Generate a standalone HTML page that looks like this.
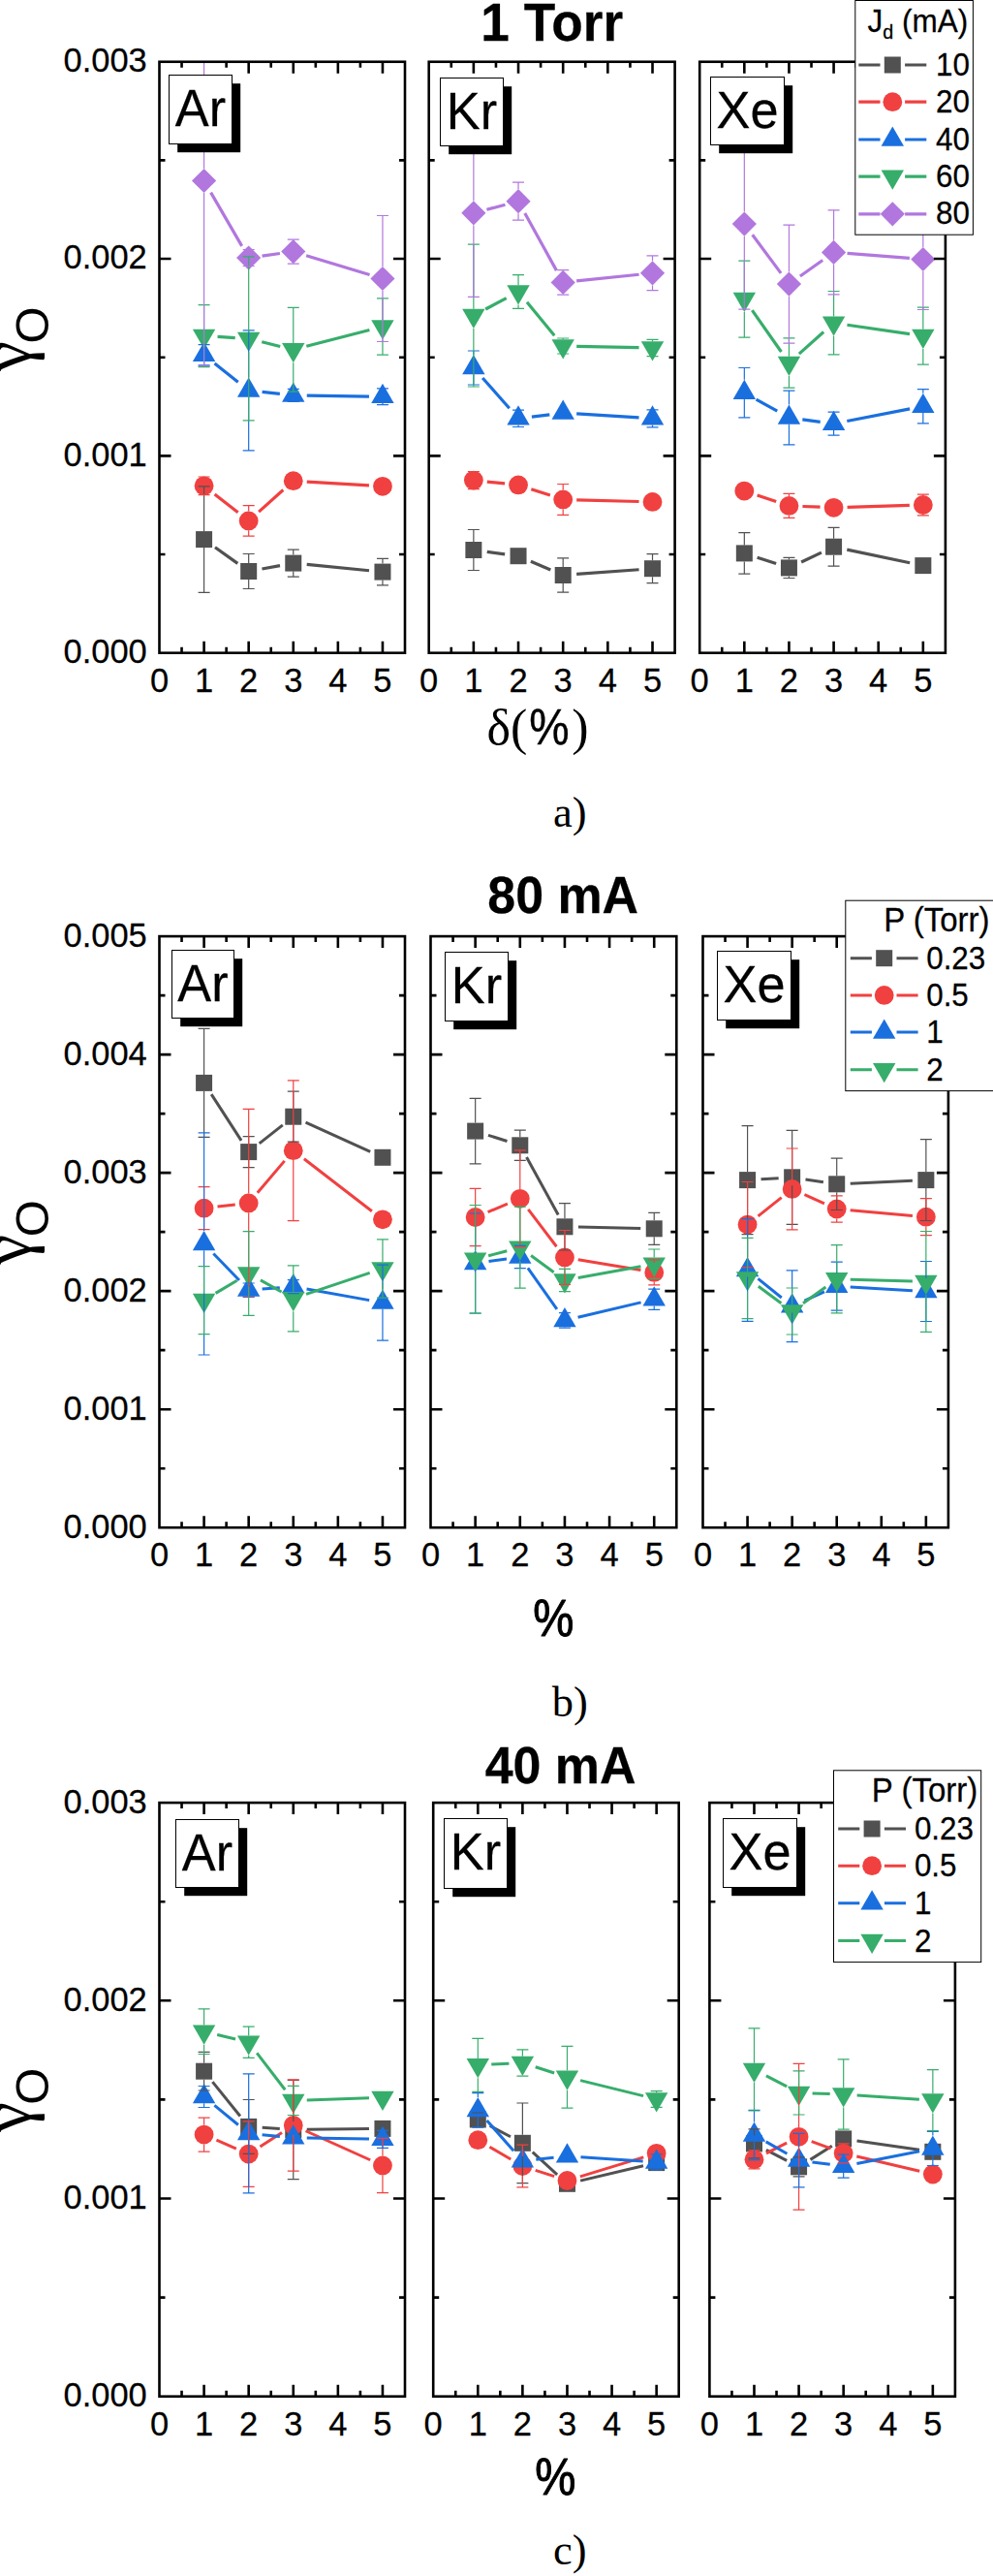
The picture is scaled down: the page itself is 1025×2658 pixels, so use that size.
<!DOCTYPE html>
<html><head><meta charset="utf-8"><title>Figure</title><style>html,body{margin:0;padding:0;background:#fff}svg{display:block}</style></head><body>
<svg width="1025" height="2658" viewBox="0 0 1025 2658">
<rect width="1025" height="2658" fill="#fff"/>
<g id="panel-a">
<clipPath id="c1"><rect x="164.5" y="63.75" width="253.5" height="609.95"/></clipPath>
<g clip-path="url(#c1)">
<line x1="221.99" y1="564.73" x2="245.29" y2="581.37" stroke="#515151" stroke-width="3.2"/>
<line x1="270.45" y1="586.99" x2="289" y2="583.61" stroke="#515151" stroke-width="3.2"/>
<line x1="316.71" y1="582.46" x2="381.02" y2="588.74" stroke="#515151" stroke-width="3.2"/>
<rect x="202.09" y="548.1" width="17" height="17" fill="#515151"/>
<rect x="248.18" y="581" width="17" height="17" fill="#515151"/>
<rect x="294.27" y="572.6" width="17" height="17" fill="#515151"/>
<rect x="386.45" y="581.6" width="17" height="17" fill="#515151"/>
<line x1="221.61" y1="509.93" x2="245.66" y2="528.77" stroke="#F14040" stroke-width="3.2"/>
<line x1="267.12" y1="528.07" x2="292.33" y2="505.53" stroke="#F14040" stroke-width="3.2"/>
<line x1="316.75" y1="497.05" x2="380.98" y2="500.95" stroke="#F14040" stroke-width="3.2"/>
<circle cx="210.59" cy="501.3" r="9.9" fill="#F14040"/>
<circle cx="256.68" cy="537.4" r="9.9" fill="#F14040"/>
<circle cx="302.77" cy="496.2" r="9.9" fill="#F14040"/>
<circle cx="394.95" cy="501.8" r="9.9" fill="#F14040"/>
<line x1="221.55" y1="375.01" x2="245.72" y2="394.19" stroke="#1A6FDF" stroke-width="3.2"/>
<line x1="270.6" y1="404.41" x2="288.85" y2="406.39" stroke="#1A6FDF" stroke-width="3.2"/>
<line x1="316.77" y1="408.11" x2="380.96" y2="409.09" stroke="#1A6FDF" stroke-width="3.2"/>
<path d="M198.89 373.05L222.29 373.05L210.59 352.79Z" fill="#1A6FDF"/>
<path d="M244.98 409.65L268.38 409.65L256.68 389.39Z" fill="#1A6FDF"/>
<path d="M291.07 414.65L314.47 414.65L302.77 394.39Z" fill="#1A6FDF"/>
<path d="M383.25 416.05L406.65 416.05L394.95 395.79Z" fill="#1A6FDF"/>
<line x1="224.57" y1="347.45" x2="242.71" y2="348.55" stroke="#37AD6B" stroke-width="3.2"/>
<line x1="270.27" y1="352.76" x2="289.18" y2="357.44" stroke="#37AD6B" stroke-width="3.2"/>
<line x1="316.33" y1="357.3" x2="381.4" y2="340.5" stroke="#37AD6B" stroke-width="3.2"/>
<path d="M198.89 339.85L222.29 339.85L210.59 360.11Z" fill="#37AD6B"/>
<path d="M244.98 342.65L268.38 342.65L256.68 362.91Z" fill="#37AD6B"/>
<path d="M291.07 354.05L314.47 354.05L302.77 374.31Z" fill="#37AD6B"/>
<path d="M383.25 330.25L406.65 330.25L394.95 350.51Z" fill="#37AD6B"/>
<line x1="217.61" y1="198.61" x2="249.66" y2="253.89" stroke="#B177DE" stroke-width="3.2"/>
<line x1="270.55" y1="264.07" x2="288.91" y2="261.53" stroke="#B177DE" stroke-width="3.2"/>
<line x1="316.17" y1="263.66" x2="381.55" y2="283.44" stroke="#B177DE" stroke-width="3.2"/>
<path d="M197.99 186.5L210.59 173.9L223.19 186.5L210.59 199.1Z" fill="#B177DE"/>
<path d="M244.08 266L256.68 253.4L269.28 266L256.68 278.6Z" fill="#B177DE"/>
<path d="M290.17 259.6L302.77 247L315.37 259.6L302.77 272.2Z" fill="#B177DE"/>
<path d="M382.35 287.5L394.95 274.9L407.55 287.5L394.95 300.1Z" fill="#B177DE"/>
<path d="M210.59 501.9V548.1M210.59 565.1V611.3M204.59 501.9H216.59M204.59 611.3H216.59" stroke="#515151" stroke-width="1.2" fill="none"/>
<path d="M256.68 571.5V581M256.68 598V607.5M250.68 571.5H262.68M250.68 607.5H262.68" stroke="#515151" stroke-width="1.2" fill="none"/>
<path d="M302.77 567.1V572.6M302.77 589.6V595.1M296.77 567.1H308.77M296.77 595.1H308.77" stroke="#515151" stroke-width="1.2" fill="none"/>
<path d="M394.95 576.3V581.6M394.95 598.6V603.9M388.95 576.3H400.95M388.95 603.9H400.95" stroke="#515151" stroke-width="1.2" fill="none"/>
<path d="M204.59 492H216.59M204.59 510.6H216.59" stroke="#F14040" stroke-width="1.2" fill="none"/>
<path d="M256.68 521.6V527.5M256.68 547.3V553.2M250.68 521.6H262.68M250.68 553.2H262.68" stroke="#F14040" stroke-width="1.2" fill="none"/>
<path d="M210.59 373.05V376.9M204.59 355.7H216.59M204.59 376.9H216.59" stroke="#1A6FDF" stroke-width="1.2" fill="none"/>
<path d="M256.68 340.9V389.39M256.68 409.65V464.9M250.68 340.9H262.68M250.68 464.9H262.68" stroke="#1A6FDF" stroke-width="1.2" fill="none"/>
<path d="M296.77 401.3H308.77M296.77 414.5H308.77" stroke="#1A6FDF" stroke-width="1.2" fill="none"/>
<path d="M394.95 416.05V417.7M388.95 400.9H400.95M388.95 417.7H400.95" stroke="#1A6FDF" stroke-width="1.2" fill="none"/>
<path d="M210.59 314.6V339.85M210.59 360.11V378.6M204.59 314.6H216.59M204.59 378.6H216.59" stroke="#37AD6B" stroke-width="1.2" fill="none"/>
<path d="M256.68 264.9V342.65M256.68 362.91V433.9M250.68 264.9H262.68M250.68 433.9H262.68" stroke="#37AD6B" stroke-width="1.2" fill="none"/>
<path d="M302.77 317.4V354.05M302.77 374.31V404.2M296.77 317.4H308.77M296.77 404.2H308.77" stroke="#37AD6B" stroke-width="1.2" fill="none"/>
<path d="M394.95 307.8V330.25M394.95 350.51V366.2M388.95 307.8H400.95M388.95 366.2H400.95" stroke="#37AD6B" stroke-width="1.2" fill="none"/>
<path d="M210.59 -4.5V173.9M210.59 199.1V377.5M204.59 -4.5H216.59M204.59 377.5H216.59" stroke="#B177DE" stroke-width="1.2" fill="none"/>
<path d="M250.68 257.5H262.68M250.68 274.5H262.68" stroke="#B177DE" stroke-width="1.2" fill="none"/>
<path d="M296.77 247.1H308.77M296.77 272.1H308.77" stroke="#B177DE" stroke-width="1.2" fill="none"/>
<path d="M394.95 222.5V274.9M394.95 300.1V352.5M388.95 222.5H400.95M388.95 352.5H400.95" stroke="#B177DE" stroke-width="1.2" fill="none"/>
</g>
<path d="M187.55 673.7v-6M187.55 63.75v6M210.59 673.7v-12M233.64 673.7v-6M233.64 63.75v6M256.68 673.7v-12M256.68 63.75v12M279.73 673.7v-6M279.73 63.75v6M302.77 673.7v-12M302.77 63.75v12M325.82 673.7v-6M325.82 63.75v6M348.86 673.7v-12M348.86 63.75v12M371.91 673.7v-6M371.91 63.75v6M394.95 673.7v-12M394.95 63.75v12M164.5 572.04h6M418 572.04h-6M164.5 470.38h12M418 470.38h-12M164.5 368.73h6M418 368.73h-6M164.5 267.07h12M418 267.07h-12M164.5 165.41h6M418 165.41h-6" stroke="#000" stroke-width="2.6" fill="none"/>
<rect x="164.5" y="63.75" width="253.5" height="609.95" fill="none" stroke="#000" stroke-width="2.6"/>
<text transform="translate(164.5 713.7) scale(0.9597 1)" font-family='"Liberation Sans", Arial, Helvetica, sans-serif' font-size="35.95" text-anchor="middle" stroke="#000" stroke-width="0.25">0</text>
<text transform="translate(210.59 713.7) scale(0.9597 1)" font-family='"Liberation Sans", Arial, Helvetica, sans-serif' font-size="35.95" text-anchor="middle" stroke="#000" stroke-width="0.25">1</text>
<text transform="translate(256.68 713.7) scale(0.9597 1)" font-family='"Liberation Sans", Arial, Helvetica, sans-serif' font-size="35.95" text-anchor="middle" stroke="#000" stroke-width="0.25">2</text>
<text transform="translate(302.77 713.7) scale(0.9597 1)" font-family='"Liberation Sans", Arial, Helvetica, sans-serif' font-size="35.95" text-anchor="middle" stroke="#000" stroke-width="0.25">3</text>
<text transform="translate(348.86 713.7) scale(0.9597 1)" font-family='"Liberation Sans", Arial, Helvetica, sans-serif' font-size="35.95" text-anchor="middle" stroke="#000" stroke-width="0.25">4</text>
<text transform="translate(394.95 713.7) scale(0.9597 1)" font-family='"Liberation Sans", Arial, Helvetica, sans-serif' font-size="35.95" text-anchor="middle" stroke="#000" stroke-width="0.25">5</text>
<rect x="183.2" y="86.2" width="65" height="71" fill="#000"/>
<rect x="174.5" y="77.5" width="65" height="71" fill="#fff" stroke="#000" stroke-width="1"/>
<text transform="translate(207 130.1) scale(0.9597 1)" font-family='"Liberation Sans", Arial, Helvetica, sans-serif' font-size="54.5" text-anchor="middle" stroke="#000" stroke-width="0.25">Ar</text>
<clipPath id="c2"><rect x="442.7" y="63.75" width="253.9" height="609.95"/></clipPath>
<g clip-path="url(#c2)">
<line x1="502.74" y1="569.36" x2="521.15" y2="571.84" stroke="#515151" stroke-width="3.2"/>
<line x1="547.89" y1="579.22" x2="568.32" y2="587.98" stroke="#515151" stroke-width="3.2"/>
<line x1="595.15" y1="592.47" x2="659.56" y2="587.73" stroke="#515151" stroke-width="3.2"/>
<rect x="480.36" y="559" width="17" height="17" fill="#515151"/>
<rect x="526.53" y="565.2" width="17" height="17" fill="#515151"/>
<rect x="572.69" y="585" width="17" height="17" fill="#515151"/>
<rect x="665.02" y="578.2" width="17" height="17" fill="#515151"/>
<line x1="502.79" y1="497.05" x2="521.1" y2="498.95" stroke="#F14040" stroke-width="3.2"/>
<line x1="548.34" y1="504.73" x2="567.88" y2="511.07" stroke="#F14040" stroke-width="3.2"/>
<line x1="595.19" y1="515.78" x2="659.52" y2="517.52" stroke="#F14040" stroke-width="3.2"/>
<circle cx="488.86" cy="495.6" r="9.9" fill="#F14040"/>
<circle cx="535.03" cy="500.4" r="9.9" fill="#F14040"/>
<circle cx="581.19" cy="515.4" r="9.9" fill="#F14040"/>
<circle cx="673.52" cy="517.9" r="9.9" fill="#F14040"/>
<line x1="498.13" y1="390" x2="525.76" y2="421.3" stroke="#1A6FDF" stroke-width="3.2"/>
<line x1="548.92" y1="430.08" x2="567.3" y2="427.82" stroke="#1A6FDF" stroke-width="3.2"/>
<line x1="595.16" y1="426.96" x2="659.54" y2="430.94" stroke="#1A6FDF" stroke-width="3.2"/>
<path d="M477.16 386.25L500.56 386.25L488.86 365.99Z" fill="#1A6FDF"/>
<path d="M523.33 438.55L546.73 438.55L535.03 418.29Z" fill="#1A6FDF"/>
<path d="M569.49 432.85L592.89 432.85L581.19 412.59Z" fill="#1A6FDF"/>
<path d="M661.82 438.55L685.22 438.55L673.52 418.29Z" fill="#1A6FDF"/>
<line x1="501.22" y1="319.02" x2="522.67" y2="307.58" stroke="#37AD6B" stroke-width="3.2"/>
<line x1="543.93" y1="311.8" x2="572.29" y2="346.2" stroke="#37AD6B" stroke-width="3.2"/>
<line x1="595.19" y1="357.3" x2="659.52" y2="358.7" stroke="#37AD6B" stroke-width="3.2"/>
<path d="M477.16 318.85L500.56 318.85L488.86 339.11Z" fill="#37AD6B"/>
<path d="M523.33 294.25L546.73 294.25L535.03 314.51Z" fill="#37AD6B"/>
<path d="M569.49 350.25L592.89 350.25L581.19 370.51Z" fill="#37AD6B"/>
<path d="M661.82 352.25L685.22 352.25L673.52 372.51Z" fill="#37AD6B"/>
<line x1="502.41" y1="216.25" x2="521.48" y2="211.25" stroke="#B177DE" stroke-width="3.2"/>
<line x1="541.79" y1="219.96" x2="574.43" y2="279.14" stroke="#B177DE" stroke-width="3.2"/>
<line x1="595.12" y1="289.95" x2="659.59" y2="283.25" stroke="#B177DE" stroke-width="3.2"/>
<path d="M476.26 219.8L488.86 207.2L501.46 219.8L488.86 232.4Z" fill="#B177DE"/>
<path d="M522.43 207.7L535.03 195.1L547.63 207.7L535.03 220.3Z" fill="#B177DE"/>
<path d="M568.59 291.4L581.19 278.8L593.79 291.4L581.19 304Z" fill="#B177DE"/>
<path d="M660.92 281.8L673.52 269.2L686.12 281.8L673.52 294.4Z" fill="#B177DE"/>
<path d="M488.86 546.5V559M488.86 576V588.5M482.86 546.5H494.86M482.86 588.5H494.86" stroke="#515151" stroke-width="1.2" fill="none"/>
<path d="M581.19 575.9V585M581.19 602V611.1M575.19 575.9H587.19M575.19 611.1H587.19" stroke="#515151" stroke-width="1.2" fill="none"/>
<path d="M673.52 571.7V578.2M673.52 595.2V601.7M667.52 571.7H679.52M667.52 601.7H679.52" stroke="#515151" stroke-width="1.2" fill="none"/>
<path d="M482.86 486.6H494.86M482.86 504.6H494.86" stroke="#F14040" stroke-width="1.2" fill="none"/>
<path d="M581.19 499.5V505.5M581.19 525.3V531.3M575.19 499.5H587.19M575.19 531.3H587.19" stroke="#F14040" stroke-width="1.2" fill="none"/>
<path d="M488.86 362V365.99M488.86 386.25V397M482.86 362H494.86M482.86 397H494.86" stroke="#1A6FDF" stroke-width="1.2" fill="none"/>
<path d="M535.03 438.55V440.5M529.03 423.1H541.03M529.03 440.5H541.03" stroke="#1A6FDF" stroke-width="1.2" fill="none"/>
<path d="M673.52 438.55V440.8M667.52 422.8H679.52M667.52 440.8H679.52" stroke="#1A6FDF" stroke-width="1.2" fill="none"/>
<path d="M488.86 252.2V318.85M488.86 339.11V399M482.86 252.2H494.86M482.86 399H494.86" stroke="#37AD6B" stroke-width="1.2" fill="none"/>
<path d="M535.03 283.7V294.25M535.03 314.51V318.3M529.03 283.7H541.03M529.03 318.3H541.03" stroke="#37AD6B" stroke-width="1.2" fill="none"/>
<path d="M581.19 349V350.25M575.19 349H587.19M575.19 365H587.19" stroke="#37AD6B" stroke-width="1.2" fill="none"/>
<path d="M673.52 350.4V352.25M667.52 350.4H679.52M667.52 367.6H679.52" stroke="#37AD6B" stroke-width="1.2" fill="none"/>
<path d="M488.86 133.2V207.2M488.86 232.4V306.4M482.86 133.2H494.86M482.86 306.4H494.86" stroke="#B177DE" stroke-width="1.2" fill="none"/>
<path d="M535.03 188.2V195.1M535.03 220.3V227.2M529.03 188.2H541.03M529.03 227.2H541.03" stroke="#B177DE" stroke-width="1.2" fill="none"/>
<path d="M581.19 278.7V278.8M581.19 304V304.1M575.19 278.7H587.19M575.19 304.1H587.19" stroke="#B177DE" stroke-width="1.2" fill="none"/>
<path d="M673.52 263.9V269.2M673.52 294.4V299.7M667.52 263.9H679.52M667.52 299.7H679.52" stroke="#B177DE" stroke-width="1.2" fill="none"/>
</g>
<path d="M465.78 673.7v-6M465.78 63.75v6M488.86 673.7v-12M488.86 63.75v12M511.95 673.7v-6M511.95 63.75v6M535.03 673.7v-12M535.03 63.75v12M558.11 673.7v-6M558.11 63.75v6M581.19 673.7v-12M581.19 63.75v12M604.27 673.7v-6M604.27 63.75v6M627.35 673.7v-12M627.35 63.75v12M650.44 673.7v-6M650.44 63.75v6M673.52 673.7v-12M673.52 63.75v12M442.7 572.04h6M696.6 572.04h-6M442.7 470.38h12M696.6 470.38h-12M442.7 368.73h6M696.6 368.73h-6M442.7 267.07h12M696.6 267.07h-12M442.7 165.41h6M696.6 165.41h-6" stroke="#000" stroke-width="2.6" fill="none"/>
<rect x="442.7" y="63.75" width="253.9" height="609.95" fill="none" stroke="#000" stroke-width="2.6"/>
<text transform="translate(442.7 713.7) scale(0.9597 1)" font-family='"Liberation Sans", Arial, Helvetica, sans-serif' font-size="35.95" text-anchor="middle" stroke="#000" stroke-width="0.25">0</text>
<text transform="translate(488.86 713.7) scale(0.9597 1)" font-family='"Liberation Sans", Arial, Helvetica, sans-serif' font-size="35.95" text-anchor="middle" stroke="#000" stroke-width="0.25">1</text>
<text transform="translate(535.03 713.7) scale(0.9597 1)" font-family='"Liberation Sans", Arial, Helvetica, sans-serif' font-size="35.95" text-anchor="middle" stroke="#000" stroke-width="0.25">2</text>
<text transform="translate(581.19 713.7) scale(0.9597 1)" font-family='"Liberation Sans", Arial, Helvetica, sans-serif' font-size="35.95" text-anchor="middle" stroke="#000" stroke-width="0.25">3</text>
<text transform="translate(627.35 713.7) scale(0.9597 1)" font-family='"Liberation Sans", Arial, Helvetica, sans-serif' font-size="35.95" text-anchor="middle" stroke="#000" stroke-width="0.25">4</text>
<text transform="translate(673.52 713.7) scale(0.9597 1)" font-family='"Liberation Sans", Arial, Helvetica, sans-serif' font-size="35.95" text-anchor="middle" stroke="#000" stroke-width="0.25">5</text>
<rect x="463.2" y="89.2" width="65" height="70" fill="#000"/>
<rect x="454.5" y="80.5" width="65" height="70" fill="#fff" stroke="#000" stroke-width="1"/>
<text transform="translate(487 133.1) scale(0.9597 1)" font-family='"Liberation Sans", Arial, Helvetica, sans-serif' font-size="54.5" text-anchor="middle" stroke="#000" stroke-width="0.25">Kr</text>
<clipPath id="c3"><rect x="722.2" y="63.75" width="253.7" height="609.95"/></clipPath>
<g clip-path="url(#c3)">
<line x1="781.64" y1="575.23" x2="801.14" y2="581.57" stroke="#515151" stroke-width="3.2"/>
<line x1="827.12" y1="579.94" x2="847.91" y2="570.16" stroke="#515151" stroke-width="3.2"/>
<line x1="874.28" y1="567.08" x2="939.14" y2="580.72" stroke="#515151" stroke-width="3.2"/>
<rect x="759.83" y="562.4" width="17" height="17" fill="#515151"/>
<rect x="805.95" y="577.4" width="17" height="17" fill="#515151"/>
<rect x="852.08" y="555.7" width="17" height="17" fill="#515151"/>
<rect x="944.34" y="575.1" width="17" height="17" fill="#515151"/>
<line x1="781.62" y1="511.01" x2="801.17" y2="517.49" stroke="#F14040" stroke-width="3.2"/>
<line x1="828.44" y1="522.48" x2="846.59" y2="523.22" stroke="#F14040" stroke-width="3.2"/>
<line x1="874.58" y1="523.38" x2="938.84" y2="521.42" stroke="#F14040" stroke-width="3.2"/>
<circle cx="768.33" cy="506.6" r="9.9" fill="#F14040"/>
<circle cx="814.45" cy="521.9" r="9.9" fill="#F14040"/>
<circle cx="860.58" cy="523.8" r="9.9" fill="#F14040"/>
<circle cx="952.84" cy="521" r="9.9" fill="#F14040"/>
<line x1="780.55" y1="412.03" x2="802.24" y2="424.17" stroke="#1A6FDF" stroke-width="3.2"/>
<line x1="828.33" y1="432.86" x2="846.71" y2="435.34" stroke="#1A6FDF" stroke-width="3.2"/>
<line x1="874.32" y1="434.52" x2="939.1" y2="421.88" stroke="#1A6FDF" stroke-width="3.2"/>
<path d="M756.63 411.95L780.03 411.95L768.33 391.69Z" fill="#1A6FDF"/>
<path d="M802.75 437.75L826.15 437.75L814.45 417.49Z" fill="#1A6FDF"/>
<path d="M848.88 443.95L872.28 443.95L860.58 423.69Z" fill="#1A6FDF"/>
<path d="M941.14 425.95L964.54 425.95L952.84 405.69Z" fill="#1A6FDF"/>
<line x1="776.36" y1="320.07" x2="806.43" y2="363.03" stroke="#37AD6B" stroke-width="3.2"/>
<line x1="824.88" y1="365.16" x2="850.15" y2="342.54" stroke="#37AD6B" stroke-width="3.2"/>
<line x1="874.44" y1="335.21" x2="938.98" y2="344.59" stroke="#37AD6B" stroke-width="3.2"/>
<path d="M756.63 301.85L780.03 301.85L768.33 322.11Z" fill="#37AD6B"/>
<path d="M802.75 367.75L826.15 367.75L814.45 388.01Z" fill="#37AD6B"/>
<path d="M848.88 326.45L872.28 326.45L860.58 346.71Z" fill="#37AD6B"/>
<path d="M941.14 339.85L964.54 339.85L952.84 360.11Z" fill="#37AD6B"/>
<line x1="776.68" y1="242.33" x2="806.1" y2="281.87" stroke="#B177DE" stroke-width="3.2"/>
<line x1="825.88" y1="285" x2="849.16" y2="268.5" stroke="#B177DE" stroke-width="3.2"/>
<line x1="874.54" y1="261.47" x2="938.88" y2="266.43" stroke="#B177DE" stroke-width="3.2"/>
<path d="M755.73 231.1L768.33 218.5L780.93 231.1L768.33 243.7Z" fill="#B177DE"/>
<path d="M801.85 293.1L814.45 280.5L827.05 293.1L814.45 305.7Z" fill="#B177DE"/>
<path d="M847.98 260.4L860.58 247.8L873.18 260.4L860.58 273Z" fill="#B177DE"/>
<path d="M940.24 267.5L952.84 254.9L965.44 267.5L952.84 280.1Z" fill="#B177DE"/>
<path d="M768.33 549.7V562.4M768.33 579.4V592.1M762.33 549.7H774.33M762.33 592.1H774.33" stroke="#515151" stroke-width="1.2" fill="none"/>
<path d="M814.45 575.3V577.4M814.45 594.4V596.5M808.45 575.3H820.45M808.45 596.5H820.45" stroke="#515151" stroke-width="1.2" fill="none"/>
<path d="M860.58 544.3V555.7M860.58 572.7V584.1M854.58 544.3H866.58M854.58 584.1H866.58" stroke="#515151" stroke-width="1.2" fill="none"/>
<path d="M814.45 509.4V512M814.45 531.8V534.4M808.45 509.4H820.45M808.45 534.4H820.45" stroke="#F14040" stroke-width="1.2" fill="none"/>
<path d="M952.84 510.1V511.1M952.84 530.9V531.9M946.84 510.1H958.84M946.84 531.9H958.84" stroke="#F14040" stroke-width="1.2" fill="none"/>
<path d="M768.33 379.5V391.69M768.33 411.95V430.9M762.33 379.5H774.33M762.33 430.9H774.33" stroke="#1A6FDF" stroke-width="1.2" fill="none"/>
<path d="M814.45 403.2V417.49M814.45 437.75V458.8M808.45 403.2H820.45M808.45 458.8H820.45" stroke="#1A6FDF" stroke-width="1.2" fill="none"/>
<path d="M860.58 443.95V449.2M854.58 425.2H866.58M854.58 449.2H866.58" stroke="#1A6FDF" stroke-width="1.2" fill="none"/>
<path d="M952.84 401.6V405.69M952.84 425.95V436.8M946.84 401.6H958.84M946.84 436.8H958.84" stroke="#1A6FDF" stroke-width="1.2" fill="none"/>
<path d="M768.33 269.1V301.85M768.33 322.11V348.1M762.33 269.1H774.33M762.33 348.1H774.33" stroke="#37AD6B" stroke-width="1.2" fill="none"/>
<path d="M814.45 348.8V367.75M814.45 388.01V400.2M808.45 348.8H820.45M808.45 400.2H820.45" stroke="#37AD6B" stroke-width="1.2" fill="none"/>
<path d="M860.58 300.5V326.45M860.58 346.71V365.9M854.58 300.5H866.58M854.58 365.9H866.58" stroke="#37AD6B" stroke-width="1.2" fill="none"/>
<path d="M952.84 317.1V339.85M952.84 360.11V376.1M946.84 317.1H958.84M946.84 376.1H958.84" stroke="#37AD6B" stroke-width="1.2" fill="none"/>
<path d="M768.33 143.1V218.5M768.33 243.7V319.1M762.33 143.1H774.33M762.33 319.1H774.33" stroke="#B177DE" stroke-width="1.2" fill="none"/>
<path d="M814.45 232.1V280.5M814.45 305.7V354.1M808.45 232.1H820.45M808.45 354.1H820.45" stroke="#B177DE" stroke-width="1.2" fill="none"/>
<path d="M860.58 216.9V247.8M860.58 273V303.9M854.58 216.9H866.58M854.58 303.9H866.58" stroke="#B177DE" stroke-width="1.2" fill="none"/>
<path d="M952.84 215.5V254.9M952.84 280.1V319.5M946.84 215.5H958.84M946.84 319.5H958.84" stroke="#B177DE" stroke-width="1.2" fill="none"/>
</g>
<path d="M745.26 673.7v-6M745.26 63.75v6M768.33 673.7v-12M768.33 63.75v12M791.39 673.7v-6M791.39 63.75v6M814.45 673.7v-12M814.45 63.75v12M837.52 673.7v-6M837.52 63.75v6M860.58 673.7v-12M860.58 63.75v12M883.65 673.7v-6M883.65 63.75v6M906.71 673.7v-12M906.71 63.75v12M929.77 673.7v-6M929.77 63.75v6M952.84 673.7v-12M952.84 63.75v12M722.2 572.04h6M975.9 572.04h-6M722.2 470.38h12M975.9 470.38h-12M722.2 368.73h6M975.9 368.73h-6M722.2 267.07h12M975.9 267.07h-12M722.2 165.41h6M975.9 165.41h-6" stroke="#000" stroke-width="2.6" fill="none"/>
<rect x="722.2" y="63.75" width="253.7" height="609.95" fill="none" stroke="#000" stroke-width="2.6"/>
<text transform="translate(722.2 713.7) scale(0.9597 1)" font-family='"Liberation Sans", Arial, Helvetica, sans-serif' font-size="35.95" text-anchor="middle" stroke="#000" stroke-width="0.25">0</text>
<text transform="translate(768.33 713.7) scale(0.9597 1)" font-family='"Liberation Sans", Arial, Helvetica, sans-serif' font-size="35.95" text-anchor="middle" stroke="#000" stroke-width="0.25">1</text>
<text transform="translate(814.45 713.7) scale(0.9597 1)" font-family='"Liberation Sans", Arial, Helvetica, sans-serif' font-size="35.95" text-anchor="middle" stroke="#000" stroke-width="0.25">2</text>
<text transform="translate(860.58 713.7) scale(0.9597 1)" font-family='"Liberation Sans", Arial, Helvetica, sans-serif' font-size="35.95" text-anchor="middle" stroke="#000" stroke-width="0.25">3</text>
<text transform="translate(906.71 713.7) scale(0.9597 1)" font-family='"Liberation Sans", Arial, Helvetica, sans-serif' font-size="35.95" text-anchor="middle" stroke="#000" stroke-width="0.25">4</text>
<text transform="translate(952.84 713.7) scale(0.9597 1)" font-family='"Liberation Sans", Arial, Helvetica, sans-serif' font-size="35.95" text-anchor="middle" stroke="#000" stroke-width="0.25">5</text>
<rect x="742.2" y="88.2" width="76" height="70" fill="#000"/>
<rect x="733.5" y="79.5" width="76" height="70" fill="#fff" stroke="#000" stroke-width="1"/>
<text transform="translate(771.5 132.1) scale(0.9597 1)" font-family='"Liberation Sans", Arial, Helvetica, sans-serif' font-size="54.5" text-anchor="middle" stroke="#000" stroke-width="0.25">Xe</text>
<text transform="translate(151.8 684.1) scale(0.9597 1)" font-family='"Liberation Sans", Arial, Helvetica, sans-serif' font-size="35.95" text-anchor="end" stroke="#000" stroke-width="0.25">0.000</text>
<text transform="translate(151.8 480.78) scale(0.9597 1)" font-family='"Liberation Sans", Arial, Helvetica, sans-serif' font-size="35.95" text-anchor="end" stroke="#000" stroke-width="0.25">0.001</text>
<text transform="translate(151.8 277.47) scale(0.9597 1)" font-family='"Liberation Sans", Arial, Helvetica, sans-serif' font-size="35.95" text-anchor="end" stroke="#000" stroke-width="0.25">0.002</text>
<text transform="translate(151.8 74.15) scale(0.9597 1)" font-family='"Liberation Sans", Arial, Helvetica, sans-serif' font-size="35.95" text-anchor="end" stroke="#000" stroke-width="0.25">0.003</text>
<text transform="translate(569.7 42.3) scale(0.9597 1)" font-family='"Liberation Sans", Arial, Helvetica, sans-serif' font-size="55.43" font-weight="bold" text-anchor="middle" stroke="#000" stroke-width="0.25">1 Torr</text>
<text y="768" font-family='"Liberation Serif", "Times New Roman", serif' font-size="52"><tspan x="544.3" text-anchor="end">δ(</tspan><tspan x="546.2" font-family='"Liberation Sans", Arial, Helvetica, sans-serif' font-size="51.2" textLength="41.4" lengthAdjust="spacingAndGlyphs" stroke="#000" stroke-width="0.4">%</tspan><tspan x="590.3">)</tspan></text>
<text x="588.3" y="853.4" text-anchor="middle" font-family='"Liberation Serif", "Times New Roman", serif' font-size="44.4">a)</text>
<text transform="rotate(-90)" text-anchor="middle"><tspan x="-367.5" y="31.2" font-family='"Liberation Serif", "Times New Roman", serif' font-size="70">γ</tspan><tspan x="-335.4" y="50" font-family='"Liberation Sans", Arial, Helvetica, sans-serif' font-size="49">O</tspan></text>
<rect x="882.8" y="0.5" width="121.6" height="241.7" fill="#fff" stroke="#000" stroke-width="1"/>
<text transform="translate(895.5 32.5) scale(0.9597 1)" font-family='"Liberation Sans", Arial, Helvetica, sans-serif' font-size="32.82" stroke="#000" stroke-width="0.25">J<tspan font-size="20.5" dy="7.5">d</tspan><tspan dy="-7.5"> (mA)</tspan></text>
<path d="M886.3 67H908.5M934.1 67H956.3" stroke="#515151" stroke-width="3.2" fill="none"/>
<rect x="912.8" y="58.5" width="17" height="17" fill="#515151"/>
<text transform="translate(966 77.6) scale(0.9597 1)" font-family='"Liberation Sans", Arial, Helvetica, sans-serif' font-size="32.72" stroke="#000" stroke-width="0.25">10</text>
<path d="M886.3 105.2H908.5M934.1 105.2H956.3" stroke="#F14040" stroke-width="3.2" fill="none"/>
<circle cx="921.3" cy="105.2" r="9.9" fill="#F14040"/>
<text transform="translate(966 115.8) scale(0.9597 1)" font-family='"Liberation Sans", Arial, Helvetica, sans-serif' font-size="32.72" stroke="#000" stroke-width="0.25">20</text>
<path d="M886.3 144H908.5M934.1 144H956.3" stroke="#1A6FDF" stroke-width="3.2" fill="none"/>
<path d="M909.6 150.75L933 150.75L921.3 130.49Z" fill="#1A6FDF"/>
<text transform="translate(966 154.6) scale(0.9597 1)" font-family='"Liberation Sans", Arial, Helvetica, sans-serif' font-size="32.72" stroke="#000" stroke-width="0.25">40</text>
<path d="M886.3 182.2H908.5M934.1 182.2H956.3" stroke="#37AD6B" stroke-width="3.2" fill="none"/>
<path d="M909.6 175.45L933 175.45L921.3 195.71Z" fill="#37AD6B"/>
<text transform="translate(966 192.8) scale(0.9597 1)" font-family='"Liberation Sans", Arial, Helvetica, sans-serif' font-size="32.72" stroke="#000" stroke-width="0.25">60</text>
<path d="M886.3 220.8H908.5M934.1 220.8H956.3" stroke="#B177DE" stroke-width="3.2" fill="none"/>
<path d="M908.7 220.8L921.3 208.2L933.9 220.8L921.3 233.4Z" fill="#B177DE"/>
<text transform="translate(966 231.4) scale(0.9597 1)" font-family='"Liberation Sans", Arial, Helvetica, sans-serif' font-size="32.72" stroke="#000" stroke-width="0.25">80</text>
</g>
<g id="panel-b">
<clipPath id="c4"><rect x="164.5" y="966.1" width="253.5" height="610.1"/></clipPath>
<g clip-path="url(#c4)">
<line x1="218.2" y1="1129.15" x2="249.07" y2="1176.85" stroke="#515151" stroke-width="3.0"/>
<line x1="267.67" y1="1179.92" x2="291.79" y2="1160.88" stroke="#515151" stroke-width="3.0"/>
<line x1="315.51" y1="1158.02" x2="382.22" y2="1188.48" stroke="#515151" stroke-width="3.0"/>
<rect x="202.09" y="1108.9" width="17" height="17" fill="#515151"/>
<rect x="248.18" y="1180.1" width="17" height="17" fill="#515151"/>
<rect x="294.27" y="1143.7" width="17" height="17" fill="#515151"/>
<rect x="386.45" y="1185.8" width="17" height="17" fill="#515151"/>
<line x1="224.5" y1="1245.1" x2="242.77" y2="1243" stroke="#F14040" stroke-width="3.0"/>
<line x1="265.75" y1="1230.73" x2="293.7" y2="1197.87" stroke="#F14040" stroke-width="3.0"/>
<line x1="313.86" y1="1195.75" x2="383.87" y2="1249.75" stroke="#F14040" stroke-width="3.0"/>
<circle cx="210.59" cy="1246.7" r="9.9" fill="#F14040"/>
<circle cx="256.68" cy="1241.4" r="9.9" fill="#F14040"/>
<circle cx="302.77" cy="1187.2" r="9.9" fill="#F14040"/>
<circle cx="394.95" cy="1258.3" r="9.9" fill="#F14040"/>
<line x1="220.33" y1="1293.46" x2="246.94" y2="1320.94" stroke="#1A6FDF" stroke-width="3.0"/>
<line x1="270.64" y1="1329.97" x2="288.81" y2="1328.63" stroke="#1A6FDF" stroke-width="3.0"/>
<line x1="316.55" y1="1330.07" x2="381.17" y2="1341.63" stroke="#1A6FDF" stroke-width="3.0"/>
<path d="M198.89 1290.15L222.29 1290.15L210.59 1269.89Z" fill="#1A6FDF"/>
<path d="M244.98 1337.75L268.38 1337.75L256.68 1317.49Z" fill="#1A6FDF"/>
<path d="M291.07 1334.35L314.47 1334.35L302.77 1314.09Z" fill="#1A6FDF"/>
<path d="M383.25 1350.85L406.65 1350.85L394.95 1330.59Z" fill="#1A6FDF"/>
<line x1="222.6" y1="1334.41" x2="244.67" y2="1321.19" stroke="#37AD6B" stroke-width="3.0"/>
<line x1="268.9" y1="1320.84" x2="290.56" y2="1332.96" stroke="#37AD6B" stroke-width="3.0"/>
<line x1="316.05" y1="1335.36" x2="381.68" y2="1313.44" stroke="#37AD6B" stroke-width="3.0"/>
<path d="M198.89 1334.85L222.29 1334.85L210.59 1355.11Z" fill="#37AD6B"/>
<path d="M244.98 1307.25L268.38 1307.25L256.68 1327.51Z" fill="#37AD6B"/>
<path d="M291.07 1333.05L314.47 1333.05L302.77 1353.31Z" fill="#37AD6B"/>
<path d="M383.25 1302.25L406.65 1302.25L394.95 1322.51Z" fill="#37AD6B"/>
<path d="M210.59 1061.4V1108.9M210.59 1125.9V1173.4M204.59 1061.4H216.59M204.59 1173.4H216.59" stroke="#515151" stroke-width="1.2" fill="none"/>
<path d="M256.68 1172.6V1180.1M256.68 1197.1V1204.6M250.68 1172.6H262.68M250.68 1204.6H262.68" stroke="#515151" stroke-width="1.2" fill="none"/>
<path d="M302.77 1126.2V1143.7M302.77 1160.7V1178.2M296.77 1126.2H308.77M296.77 1178.2H308.77" stroke="#515151" stroke-width="1.2" fill="none"/>
<path d="M210.59 1224.7V1236.8M210.59 1256.6V1268.7M204.59 1224.7H216.59M204.59 1268.7H216.59" stroke="#F14040" stroke-width="1.2" fill="none"/>
<path d="M256.68 1144.4V1231.5M256.68 1251.3V1338.4M250.68 1144.4H262.68M250.68 1338.4H262.68" stroke="#F14040" stroke-width="1.2" fill="none"/>
<path d="M302.77 1114.8V1177.3M302.77 1197.1V1259.6M296.77 1114.8H308.77M296.77 1259.6H308.77" stroke="#F14040" stroke-width="1.2" fill="none"/>
<path d="M210.59 1168.8V1269.89M210.59 1290.15V1398M204.59 1168.8H216.59M204.59 1398H216.59" stroke="#1A6FDF" stroke-width="1.2" fill="none"/>
<path d="M256.68 1337.75V1338M250.68 1324H262.68M250.68 1338H262.68" stroke="#1A6FDF" stroke-width="1.2" fill="none"/>
<path d="M302.77 1334.35V1334.6M296.77 1320.6H308.77M296.77 1334.6H308.77" stroke="#1A6FDF" stroke-width="1.2" fill="none"/>
<path d="M394.95 1305.1V1330.59M394.95 1350.85V1383.1M388.95 1305.1H400.95M388.95 1383.1H400.95" stroke="#1A6FDF" stroke-width="1.2" fill="none"/>
<path d="M210.59 1306.6V1334.85M210.59 1355.11V1376.6M204.59 1306.6H216.59M204.59 1376.6H216.59" stroke="#37AD6B" stroke-width="1.2" fill="none"/>
<path d="M256.68 1270.6V1307.25M256.68 1327.51V1357.4M250.68 1270.6H262.68M250.68 1357.4H262.68" stroke="#37AD6B" stroke-width="1.2" fill="none"/>
<path d="M302.77 1305.8V1333.05M302.77 1353.31V1373.8M296.77 1305.8H308.77M296.77 1373.8H308.77" stroke="#37AD6B" stroke-width="1.2" fill="none"/>
<path d="M394.95 1278.8V1302.25M394.95 1322.51V1339.2M388.95 1278.8H400.95M388.95 1339.2H400.95" stroke="#37AD6B" stroke-width="1.2" fill="none"/>
</g>
<path d="M187.55 1576.2v-6M187.55 966.1v6M210.59 1576.2v-12M210.59 966.1v12M233.64 1576.2v-6M233.64 966.1v6M256.68 1576.2v-12M256.68 966.1v12M279.73 1576.2v-6M279.73 966.1v6M302.77 1576.2v-12M302.77 966.1v12M325.82 1576.2v-6M325.82 966.1v6M348.86 1576.2v-12M348.86 966.1v12M371.91 1576.2v-6M371.91 966.1v6M394.95 1576.2v-12M394.95 966.1v12M164.5 1515.19h6M418 1515.19h-6M164.5 1454.18h12M418 1454.18h-12M164.5 1393.17h6M418 1393.17h-6M164.5 1332.16h12M418 1332.16h-12M164.5 1271.15h6M418 1271.15h-6M164.5 1210.14h12M418 1210.14h-12M164.5 1149.13h6M418 1149.13h-6M164.5 1088.12h12M418 1088.12h-12M164.5 1027.11h6M418 1027.11h-6" stroke="#000" stroke-width="2.6" fill="none"/>
<rect x="164.5" y="966.1" width="253.5" height="610.1" fill="none" stroke="#000" stroke-width="2.6"/>
<text transform="translate(164.5 1616.2) scale(0.9597 1)" font-family='"Liberation Sans", Arial, Helvetica, sans-serif' font-size="35.95" text-anchor="middle" stroke="#000" stroke-width="0.25">0</text>
<text transform="translate(210.59 1616.2) scale(0.9597 1)" font-family='"Liberation Sans", Arial, Helvetica, sans-serif' font-size="35.95" text-anchor="middle" stroke="#000" stroke-width="0.25">1</text>
<text transform="translate(256.68 1616.2) scale(0.9597 1)" font-family='"Liberation Sans", Arial, Helvetica, sans-serif' font-size="35.95" text-anchor="middle" stroke="#000" stroke-width="0.25">2</text>
<text transform="translate(302.77 1616.2) scale(0.9597 1)" font-family='"Liberation Sans", Arial, Helvetica, sans-serif' font-size="35.95" text-anchor="middle" stroke="#000" stroke-width="0.25">3</text>
<text transform="translate(348.86 1616.2) scale(0.9597 1)" font-family='"Liberation Sans", Arial, Helvetica, sans-serif' font-size="35.95" text-anchor="middle" stroke="#000" stroke-width="0.25">4</text>
<text transform="translate(394.95 1616.2) scale(0.9597 1)" font-family='"Liberation Sans", Arial, Helvetica, sans-serif' font-size="35.95" text-anchor="middle" stroke="#000" stroke-width="0.25">5</text>
<rect x="186.2" y="989.2" width="64" height="70" fill="#000"/>
<rect x="177.5" y="980.5" width="64" height="70" fill="#fff" stroke="#000" stroke-width="1"/>
<text transform="translate(209.5 1033.1) scale(0.9597 1)" font-family='"Liberation Sans", Arial, Helvetica, sans-serif' font-size="54.5" text-anchor="middle" stroke="#000" stroke-width="0.25">Ar</text>
<clipPath id="c5"><rect x="444.5" y="966.1" width="253.8" height="610.1"/></clipPath>
<g clip-path="url(#c5)">
<line x1="503.98" y1="1171.35" x2="523.45" y2="1177.55" stroke="#515151" stroke-width="3.0"/>
<line x1="543.53" y1="1194.07" x2="576.2" y2="1253.53" stroke="#515151" stroke-width="3.0"/>
<line x1="596.93" y1="1266.1" x2="661.23" y2="1267.5" stroke="#515151" stroke-width="3.0"/>
<rect x="482.15" y="1158.6" width="17" height="17" fill="#515151"/>
<rect x="528.29" y="1173.3" width="17" height="17" fill="#515151"/>
<rect x="574.44" y="1257.3" width="17" height="17" fill="#515151"/>
<rect x="666.73" y="1259.3" width="17" height="17" fill="#515151"/>
<line x1="503.57" y1="1250.62" x2="523.87" y2="1242.18" stroke="#F14040" stroke-width="3.0"/>
<line x1="545.27" y1="1247.94" x2="574.45" y2="1286.26" stroke="#F14040" stroke-width="3.0"/>
<line x1="596.74" y1="1299.72" x2="661.42" y2="1310.58" stroke="#F14040" stroke-width="3.0"/>
<circle cx="490.65" cy="1256" r="9.9" fill="#F14040"/>
<circle cx="536.79" cy="1236.8" r="9.9" fill="#F14040"/>
<circle cx="582.94" cy="1297.4" r="9.9" fill="#F14040"/>
<circle cx="675.23" cy="1312.9" r="9.9" fill="#F14040"/>
<line x1="504.51" y1="1301.55" x2="522.93" y2="1298.95" stroke="#1A6FDF" stroke-width="3.0"/>
<line x1="544.86" y1="1308.44" x2="574.87" y2="1350.96" stroke="#1A6FDF" stroke-width="3.0"/>
<line x1="596.56" y1="1359.2" x2="661.6" y2="1343.9" stroke="#1A6FDF" stroke-width="3.0"/>
<path d="M478.95 1310.25L502.35 1310.25L490.65 1289.99Z" fill="#1A6FDF"/>
<path d="M525.09 1303.75L548.49 1303.75L536.79 1283.49Z" fill="#1A6FDF"/>
<path d="M571.24 1369.15L594.64 1369.15L582.94 1348.89Z" fill="#1A6FDF"/>
<path d="M663.53 1347.45L686.93 1347.45L675.23 1327.19Z" fill="#1A6FDF"/>
<line x1="504.19" y1="1295.75" x2="523.25" y2="1290.75" stroke="#37AD6B" stroke-width="3.0"/>
<line x1="548.09" y1="1295.47" x2="571.64" y2="1312.73" stroke="#37AD6B" stroke-width="3.0"/>
<line x1="596.71" y1="1318.49" x2="661.45" y2="1306.71" stroke="#37AD6B" stroke-width="3.0"/>
<path d="M478.95 1292.55L502.35 1292.55L490.65 1312.81Z" fill="#37AD6B"/>
<path d="M525.09 1280.45L548.49 1280.45L536.79 1300.71Z" fill="#37AD6B"/>
<path d="M571.24 1314.25L594.64 1314.25L582.94 1334.51Z" fill="#37AD6B"/>
<path d="M663.53 1297.45L686.93 1297.45L675.23 1317.71Z" fill="#37AD6B"/>
<path d="M490.65 1133.4V1158.6M490.65 1175.6V1200.8M484.65 1133.4H496.65M484.65 1200.8H496.65" stroke="#515151" stroke-width="1.2" fill="none"/>
<path d="M536.79 1166.2V1173.3M536.79 1190.3V1197.4M530.79 1166.2H542.79M530.79 1197.4H542.79" stroke="#515151" stroke-width="1.2" fill="none"/>
<path d="M582.94 1241.6V1257.3M582.94 1274.3V1290M576.94 1241.6H588.94M576.94 1290H588.94" stroke="#515151" stroke-width="1.2" fill="none"/>
<path d="M675.23 1251.3V1259.3M675.23 1276.3V1284.3M669.23 1251.3H681.23M669.23 1284.3H681.23" stroke="#515151" stroke-width="1.2" fill="none"/>
<path d="M490.65 1226.3V1246.1M490.65 1265.9V1285.7M484.65 1226.3H496.65M484.65 1285.7H496.65" stroke="#F14040" stroke-width="1.2" fill="none"/>
<path d="M536.79 1186.8V1226.9M536.79 1246.7V1286.8M530.79 1186.8H542.79M530.79 1286.8H542.79" stroke="#F14040" stroke-width="1.2" fill="none"/>
<path d="M582.94 1269.5V1287.5M582.94 1307.3V1325.3M576.94 1269.5H588.94M576.94 1325.3H588.94" stroke="#F14040" stroke-width="1.2" fill="none"/>
<path d="M675.23 1299.9V1303M675.23 1322.8V1325.9M669.23 1299.9H681.23M669.23 1325.9H681.23" stroke="#F14040" stroke-width="1.2" fill="none"/>
<path d="M490.65 1252V1289.99M490.65 1310.25V1355M484.65 1252H496.65M484.65 1355H496.65" stroke="#1A6FDF" stroke-width="1.2" fill="none"/>
<path d="M536.79 1303.75V1308.7M530.79 1285.3H542.79M530.79 1308.7H542.79" stroke="#1A6FDF" stroke-width="1.2" fill="none"/>
<path d="M582.94 1369.15V1370.2M576.94 1354.6H588.94M576.94 1370.2H588.94" stroke="#1A6FDF" stroke-width="1.2" fill="none"/>
<path d="M675.23 1347.45V1351.3M669.23 1330.1H681.23M669.23 1351.3H681.23" stroke="#1A6FDF" stroke-width="1.2" fill="none"/>
<path d="M490.65 1243.5V1292.55M490.65 1312.81V1355.1M484.65 1243.5H496.65M484.65 1355.1H496.65" stroke="#37AD6B" stroke-width="1.2" fill="none"/>
<path d="M536.79 1245.2V1280.45M536.79 1300.71V1329.2M530.79 1245.2H542.79M530.79 1329.2H542.79" stroke="#37AD6B" stroke-width="1.2" fill="none"/>
<path d="M582.94 1309.4V1314.25M576.94 1309.4H588.94M576.94 1332.6H588.94" stroke="#37AD6B" stroke-width="1.2" fill="none"/>
<path d="M675.23 1289V1297.45M675.23 1317.71V1319.4M669.23 1289H681.23M669.23 1319.4H681.23" stroke="#37AD6B" stroke-width="1.2" fill="none"/>
</g>
<path d="M467.57 1576.2v-6M467.57 966.1v6M490.65 1576.2v-12M490.65 966.1v12M513.72 1576.2v-6M513.72 966.1v6M536.79 1576.2v-12M536.79 966.1v12M559.86 1576.2v-6M559.86 966.1v6M582.94 1576.2v-12M582.94 966.1v12M606.01 1576.2v-6M606.01 966.1v6M629.08 1576.2v-12M629.08 966.1v12M652.15 1576.2v-6M652.15 966.1v6M675.23 1576.2v-12M675.23 966.1v12M444.5 1515.19h6M698.3 1515.19h-6M444.5 1454.18h12M698.3 1454.18h-12M444.5 1393.17h6M698.3 1393.17h-6M444.5 1332.16h12M698.3 1332.16h-12M444.5 1271.15h6M698.3 1271.15h-6M444.5 1210.14h12M698.3 1210.14h-12M444.5 1149.13h6M698.3 1149.13h-6M444.5 1088.12h12M698.3 1088.12h-12M444.5 1027.11h6M698.3 1027.11h-6" stroke="#000" stroke-width="2.6" fill="none"/>
<rect x="444.5" y="966.1" width="253.8" height="610.1" fill="none" stroke="#000" stroke-width="2.6"/>
<text transform="translate(444.5 1616.2) scale(0.9597 1)" font-family='"Liberation Sans", Arial, Helvetica, sans-serif' font-size="35.95" text-anchor="middle" stroke="#000" stroke-width="0.25">0</text>
<text transform="translate(490.65 1616.2) scale(0.9597 1)" font-family='"Liberation Sans", Arial, Helvetica, sans-serif' font-size="35.95" text-anchor="middle" stroke="#000" stroke-width="0.25">1</text>
<text transform="translate(536.79 1616.2) scale(0.9597 1)" font-family='"Liberation Sans", Arial, Helvetica, sans-serif' font-size="35.95" text-anchor="middle" stroke="#000" stroke-width="0.25">2</text>
<text transform="translate(582.94 1616.2) scale(0.9597 1)" font-family='"Liberation Sans", Arial, Helvetica, sans-serif' font-size="35.95" text-anchor="middle" stroke="#000" stroke-width="0.25">3</text>
<text transform="translate(629.08 1616.2) scale(0.9597 1)" font-family='"Liberation Sans", Arial, Helvetica, sans-serif' font-size="35.95" text-anchor="middle" stroke="#000" stroke-width="0.25">4</text>
<text transform="translate(675.23 1616.2) scale(0.9597 1)" font-family='"Liberation Sans", Arial, Helvetica, sans-serif' font-size="35.95" text-anchor="middle" stroke="#000" stroke-width="0.25">5</text>
<rect x="468.2" y="991.2" width="65" height="71" fill="#000"/>
<rect x="459.5" y="982.5" width="65" height="71" fill="#fff" stroke="#000" stroke-width="1"/>
<text transform="translate(492 1035.1) scale(0.9597 1)" font-family='"Liberation Sans", Arial, Helvetica, sans-serif' font-size="54.5" text-anchor="middle" stroke="#000" stroke-width="0.25">Kr</text>
<clipPath id="c6"><rect x="725.5" y="966.1" width="253.4" height="610.1"/></clipPath>
<g clip-path="url(#c6)">
<line x1="785.55" y1="1216.75" x2="803.67" y2="1215.65" stroke="#515151" stroke-width="3.0"/>
<line x1="831.49" y1="1216.9" x2="849.88" y2="1219.7" stroke="#515151" stroke-width="3.0"/>
<line x1="877.7" y1="1221.16" x2="941.88" y2="1218.24" stroke="#515151" stroke-width="3.0"/>
<rect x="763.07" y="1209.1" width="17" height="17" fill="#515151"/>
<rect x="809.15" y="1206.3" width="17" height="17" fill="#515151"/>
<rect x="855.22" y="1213.3" width="17" height="17" fill="#515151"/>
<rect x="947.36" y="1209.1" width="17" height="17" fill="#515151"/>
<line x1="782.52" y1="1254.88" x2="806.69" y2="1235.62" stroke="#F14040" stroke-width="3.0"/>
<line x1="830.43" y1="1232.61" x2="850.94" y2="1241.79" stroke="#F14040" stroke-width="3.0"/>
<line x1="877.66" y1="1248.74" x2="941.92" y2="1254.46" stroke="#F14040" stroke-width="3.0"/>
<circle cx="771.57" cy="1263.6" r="9.9" fill="#F14040"/>
<circle cx="817.65" cy="1226.9" r="9.9" fill="#F14040"/>
<circle cx="863.72" cy="1247.5" r="9.9" fill="#F14040"/>
<circle cx="955.86" cy="1255.7" r="9.9" fill="#F14040"/>
<line x1="782.45" y1="1319.31" x2="806.76" y2="1338.99" stroke="#1A6FDF" stroke-width="3.0"/>
<line x1="830.43" y1="1342.09" x2="850.94" y2="1332.91" stroke="#1A6FDF" stroke-width="3.0"/>
<line x1="877.7" y1="1328" x2="941.89" y2="1331.7" stroke="#1A6FDF" stroke-width="3.0"/>
<path d="M759.87 1317.25L783.27 1317.25L771.57 1296.99Z" fill="#1A6FDF"/>
<path d="M805.95 1354.55L829.35 1354.55L817.65 1334.29Z" fill="#1A6FDF"/>
<path d="M852.02 1333.95L875.42 1333.95L863.72 1313.69Z" fill="#1A6FDF"/>
<path d="M944.16 1339.25L967.56 1339.25L955.86 1318.99Z" fill="#1A6FDF"/>
<line x1="782.84" y1="1327.31" x2="806.38" y2="1344.69" stroke="#37AD6B" stroke-width="3.0"/>
<line x1="829" y1="1344.82" x2="852.36" y2="1327.98" stroke="#37AD6B" stroke-width="3.0"/>
<line x1="877.71" y1="1320.19" x2="941.87" y2="1322.01" stroke="#37AD6B" stroke-width="3.0"/>
<path d="M759.87 1312.25L783.27 1312.25L771.57 1332.51Z" fill="#37AD6B"/>
<path d="M805.95 1346.25L829.35 1346.25L817.65 1366.51Z" fill="#37AD6B"/>
<path d="M852.02 1313.05L875.42 1313.05L863.72 1333.31Z" fill="#37AD6B"/>
<path d="M944.16 1315.65L967.56 1315.65L955.86 1335.91Z" fill="#37AD6B"/>
<path d="M771.57 1161.6V1209.1M771.57 1226.1V1273.6M765.57 1161.6H777.57M765.57 1273.6H777.57" stroke="#515151" stroke-width="1.2" fill="none"/>
<path d="M817.65 1166.3V1206.3M817.65 1223.3V1263.3M811.65 1166.3H823.65M811.65 1263.3H823.65" stroke="#515151" stroke-width="1.2" fill="none"/>
<path d="M863.72 1195.1V1213.3M863.72 1230.3V1248.5M857.72 1195.1H869.72M857.72 1248.5H869.72" stroke="#515151" stroke-width="1.2" fill="none"/>
<path d="M955.86 1175.7V1209.1M955.86 1226.1V1259.5M949.86 1175.7H961.86M949.86 1259.5H961.86" stroke="#515151" stroke-width="1.2" fill="none"/>
<path d="M771.57 1219.5V1253.7M771.57 1273.5V1307.7M765.57 1219.5H777.57M765.57 1307.7H777.57" stroke="#F14040" stroke-width="1.2" fill="none"/>
<path d="M817.65 1185V1217M817.65 1236.8V1268.8M811.65 1185H823.65M811.65 1268.8H823.65" stroke="#F14040" stroke-width="1.2" fill="none"/>
<path d="M863.72 1233.8V1237.6M863.72 1257.4V1261.2M857.72 1233.8H869.72M857.72 1261.2H869.72" stroke="#F14040" stroke-width="1.2" fill="none"/>
<path d="M955.86 1236.7V1245.8M955.86 1265.6V1274.7M949.86 1236.7H961.86M949.86 1274.7H961.86" stroke="#F14040" stroke-width="1.2" fill="none"/>
<path d="M771.57 1257.6V1296.99M771.57 1317.25V1363.4M765.57 1257.6H777.57M765.57 1363.4H777.57" stroke="#1A6FDF" stroke-width="1.2" fill="none"/>
<path d="M817.65 1310.9V1334.29M817.65 1354.55V1384.7M811.65 1310.9H823.65M811.65 1384.7H823.65" stroke="#1A6FDF" stroke-width="1.2" fill="none"/>
<path d="M863.72 1302.2V1313.69M863.72 1333.95V1352.2M857.72 1302.2H869.72M857.72 1352.2H869.72" stroke="#1A6FDF" stroke-width="1.2" fill="none"/>
<path d="M955.86 1301.5V1318.99M955.86 1339.25V1363.5M949.86 1301.5H961.86M949.86 1363.5H961.86" stroke="#1A6FDF" stroke-width="1.2" fill="none"/>
<path d="M771.57 1277.4V1312.25M771.57 1332.51V1360.6M765.57 1277.4H777.57M765.57 1360.6H777.57" stroke="#37AD6B" stroke-width="1.2" fill="none"/>
<path d="M817.65 1329V1346.25M817.65 1366.51V1377M811.65 1329H823.65M811.65 1377H823.65" stroke="#37AD6B" stroke-width="1.2" fill="none"/>
<path d="M863.72 1284.7V1313.05M863.72 1333.31V1354.9M857.72 1284.7H869.72M857.72 1354.9H869.72" stroke="#37AD6B" stroke-width="1.2" fill="none"/>
<path d="M955.86 1270.5V1315.65M955.86 1335.91V1374.3M949.86 1270.5H961.86M949.86 1374.3H961.86" stroke="#37AD6B" stroke-width="1.2" fill="none"/>
</g>
<path d="M748.54 1576.2v-6M748.54 966.1v6M771.57 1576.2v-12M771.57 966.1v12M794.61 1576.2v-6M794.61 966.1v6M817.65 1576.2v-12M817.65 966.1v12M840.68 1576.2v-6M840.68 966.1v6M863.72 1576.2v-12M863.72 966.1v12M886.75 1576.2v-6M886.75 966.1v6M909.79 1576.2v-12M909.79 966.1v12M932.83 1576.2v-6M932.83 966.1v6M955.86 1576.2v-12M955.86 966.1v12M725.5 1515.19h6M978.9 1515.19h-6M725.5 1454.18h12M978.9 1454.18h-12M725.5 1393.17h6M978.9 1393.17h-6M725.5 1332.16h12M978.9 1332.16h-12M725.5 1271.15h6M978.9 1271.15h-6M725.5 1210.14h12M978.9 1210.14h-12M725.5 1149.13h6M978.9 1149.13h-6M725.5 1088.12h12M978.9 1088.12h-12M725.5 1027.11h6M978.9 1027.11h-6" stroke="#000" stroke-width="2.6" fill="none"/>
<rect x="725.5" y="966.1" width="253.4" height="610.1" fill="none" stroke="#000" stroke-width="2.6"/>
<text transform="translate(725.5 1616.2) scale(0.9597 1)" font-family='"Liberation Sans", Arial, Helvetica, sans-serif' font-size="35.95" text-anchor="middle" stroke="#000" stroke-width="0.25">0</text>
<text transform="translate(771.57 1616.2) scale(0.9597 1)" font-family='"Liberation Sans", Arial, Helvetica, sans-serif' font-size="35.95" text-anchor="middle" stroke="#000" stroke-width="0.25">1</text>
<text transform="translate(817.65 1616.2) scale(0.9597 1)" font-family='"Liberation Sans", Arial, Helvetica, sans-serif' font-size="35.95" text-anchor="middle" stroke="#000" stroke-width="0.25">2</text>
<text transform="translate(863.72 1616.2) scale(0.9597 1)" font-family='"Liberation Sans", Arial, Helvetica, sans-serif' font-size="35.95" text-anchor="middle" stroke="#000" stroke-width="0.25">3</text>
<text transform="translate(909.79 1616.2) scale(0.9597 1)" font-family='"Liberation Sans", Arial, Helvetica, sans-serif' font-size="35.95" text-anchor="middle" stroke="#000" stroke-width="0.25">4</text>
<text transform="translate(955.86 1616.2) scale(0.9597 1)" font-family='"Liberation Sans", Arial, Helvetica, sans-serif' font-size="35.95" text-anchor="middle" stroke="#000" stroke-width="0.25">5</text>
<rect x="749.2" y="990.2" width="76" height="71" fill="#000"/>
<rect x="740.5" y="981.5" width="76" height="71" fill="#fff" stroke="#000" stroke-width="1"/>
<text transform="translate(778.5 1034.1) scale(0.9597 1)" font-family='"Liberation Sans", Arial, Helvetica, sans-serif' font-size="54.5" text-anchor="middle" stroke="#000" stroke-width="0.25">Xe</text>
<text transform="translate(151.8 1586.6) scale(0.9597 1)" font-family='"Liberation Sans", Arial, Helvetica, sans-serif' font-size="35.95" text-anchor="end" stroke="#000" stroke-width="0.25">0.000</text>
<text transform="translate(151.8 1464.58) scale(0.9597 1)" font-family='"Liberation Sans", Arial, Helvetica, sans-serif' font-size="35.95" text-anchor="end" stroke="#000" stroke-width="0.25">0.001</text>
<text transform="translate(151.8 1342.56) scale(0.9597 1)" font-family='"Liberation Sans", Arial, Helvetica, sans-serif' font-size="35.95" text-anchor="end" stroke="#000" stroke-width="0.25">0.002</text>
<text transform="translate(151.8 1220.54) scale(0.9597 1)" font-family='"Liberation Sans", Arial, Helvetica, sans-serif' font-size="35.95" text-anchor="end" stroke="#000" stroke-width="0.25">0.003</text>
<text transform="translate(151.8 1098.52) scale(0.9597 1)" font-family='"Liberation Sans", Arial, Helvetica, sans-serif' font-size="35.95" text-anchor="end" stroke="#000" stroke-width="0.25">0.004</text>
<text transform="translate(151.8 976.5) scale(0.9597 1)" font-family='"Liberation Sans", Arial, Helvetica, sans-serif' font-size="35.95" text-anchor="end" stroke="#000" stroke-width="0.25">0.005</text>
<text transform="translate(581.2 941.5) scale(0.9597 1)" font-family='"Liberation Sans", Arial, Helvetica, sans-serif' font-size="54.08" font-weight="bold" text-anchor="middle" stroke="#000" stroke-width="0.25">80 mA</text>
<text transform="translate(571.3 1687.9) scale(0.877 1)" text-anchor="middle" font-family='"Liberation Sans", Arial, Helvetica, sans-serif' font-size="54" stroke="#000" stroke-width="1.0" stroke-linejoin="round">%</text>
<text x="588.3" y="1771.2" text-anchor="middle" font-family='"Liberation Serif", "Times New Roman", serif' font-size="44.4">b)</text>
<text transform="rotate(-90)" text-anchor="middle"><tspan x="-1289.2" y="31.2" font-family='"Liberation Serif", "Times New Roman", serif' font-size="70">γ</tspan><tspan x="-1257.3" y="50" font-family='"Liberation Sans", Arial, Helvetica, sans-serif' font-size="49">O</tspan></text>
<rect x="872.8" y="929.2" width="153.2" height="196.4" fill="#fff" stroke="#000" stroke-width="1"/>
<text transform="translate(1021.5 960.8) scale(0.9597 1)" font-family='"Liberation Sans", Arial, Helvetica, sans-serif' font-size="34.39" text-anchor="end" stroke="#000" stroke-width="0.25">P (Torr)</text>
<path d="M877.8 988.7H899.9M925.5 988.7H947.6" stroke="#515151" stroke-width="3.0" fill="none"/>
<rect x="904.2" y="980.2" width="17" height="17" fill="#515151"/>
<text transform="translate(956.2 999.6) scale(0.9597 1)" font-family='"Liberation Sans", Arial, Helvetica, sans-serif' font-size="32.72" stroke="#000" stroke-width="0.25">0.23</text>
<path d="M877.8 1026.9H899.9M925.5 1026.9H947.6" stroke="#F14040" stroke-width="3.0" fill="none"/>
<circle cx="912.7" cy="1026.9" r="9.9" fill="#F14040"/>
<text transform="translate(956.2 1037.8) scale(0.9597 1)" font-family='"Liberation Sans", Arial, Helvetica, sans-serif' font-size="32.72" stroke="#000" stroke-width="0.25">0.5</text>
<path d="M877.8 1065.1H899.9M925.5 1065.1H947.6" stroke="#1A6FDF" stroke-width="3.0" fill="none"/>
<path d="M901 1071.85L924.4 1071.85L912.7 1051.59Z" fill="#1A6FDF"/>
<text transform="translate(956.2 1076) scale(0.9597 1)" font-family='"Liberation Sans", Arial, Helvetica, sans-serif' font-size="32.72" stroke="#000" stroke-width="0.25">1</text>
<path d="M877.8 1103.7H899.9M925.5 1103.7H947.6" stroke="#37AD6B" stroke-width="3.0" fill="none"/>
<path d="M901 1096.95L924.4 1096.95L912.7 1117.21Z" fill="#37AD6B"/>
<text transform="translate(956.2 1114.6) scale(0.9597 1)" font-family='"Liberation Sans", Arial, Helvetica, sans-serif' font-size="32.72" stroke="#000" stroke-width="0.25">2</text>
</g>
<g id="panel-c">
<clipPath id="c7"><rect x="164.5" y="1860.1" width="253.5" height="612.6"/></clipPath>
<g clip-path="url(#c7)">
<line x1="219.38" y1="2148.1" x2="247.9" y2="2183.5" stroke="#515151" stroke-width="3.0"/>
<line x1="270.65" y1="2195.34" x2="288.8" y2="2196.56" stroke="#515151" stroke-width="3.0"/>
<line x1="316.77" y1="2197.33" x2="380.96" y2="2196.57" stroke="#515151" stroke-width="3.0"/>
<rect x="202.09" y="2128.7" width="17" height="17" fill="#515151"/>
<rect x="248.18" y="2185.9" width="17" height="17" fill="#515151"/>
<rect x="294.27" y="2189" width="17" height="17" fill="#515151"/>
<rect x="386.45" y="2187.9" width="17" height="17" fill="#515151"/>
<line x1="223.43" y1="2208.17" x2="243.84" y2="2217.03" stroke="#F14040" stroke-width="3.0"/>
<line x1="268.46" y1="2215.03" x2="290.99" y2="2200.57" stroke="#F14040" stroke-width="3.0"/>
<line x1="315.54" y1="2198.75" x2="382.19" y2="2228.75" stroke="#F14040" stroke-width="3.0"/>
<circle cx="210.59" cy="2202.6" r="9.9" fill="#F14040"/>
<circle cx="256.68" cy="2222.6" r="9.9" fill="#F14040"/>
<circle cx="302.77" cy="2193" r="9.9" fill="#F14040"/>
<circle cx="394.95" cy="2234.5" r="9.9" fill="#F14040"/>
<line x1="221.4" y1="2172.39" x2="245.87" y2="2192.51" stroke="#1A6FDF" stroke-width="3.0"/>
<line x1="270.62" y1="2202.73" x2="288.84" y2="2204.47" stroke="#1A6FDF" stroke-width="3.0"/>
<line x1="316.77" y1="2206.03" x2="380.96" y2="2207.07" stroke="#1A6FDF" stroke-width="3.0"/>
<path d="M198.89 2170.25L222.29 2170.25L210.59 2149.99Z" fill="#1A6FDF"/>
<path d="M244.98 2208.15L268.38 2208.15L256.68 2187.89Z" fill="#1A6FDF"/>
<path d="M291.07 2212.55L314.47 2212.55L302.77 2192.29Z" fill="#1A6FDF"/>
<path d="M383.25 2214.05L406.65 2214.05L394.95 2193.79Z" fill="#1A6FDF"/>
<line x1="224.21" y1="2099.45" x2="243.06" y2="2103.95" stroke="#37AD6B" stroke-width="3.0"/>
<line x1="265.19" y1="2118.32" x2="294.26" y2="2156.28" stroke="#37AD6B" stroke-width="3.0"/>
<line x1="316.77" y1="2166.94" x2="380.96" y2="2164.86" stroke="#37AD6B" stroke-width="3.0"/>
<path d="M198.89 2089.45L222.29 2089.45L210.59 2109.71Z" fill="#37AD6B"/>
<path d="M244.98 2100.45L268.38 2100.45L256.68 2120.71Z" fill="#37AD6B"/>
<path d="M291.07 2160.65L314.47 2160.65L302.77 2180.91Z" fill="#37AD6B"/>
<path d="M383.25 2157.65L406.65 2157.65L394.95 2177.91Z" fill="#37AD6B"/>
<path d="M210.59 2117.4V2128.7M210.59 2145.7V2157M204.59 2117.4H216.59M204.59 2157H216.59" stroke="#515151" stroke-width="1.2" fill="none"/>
<path d="M256.68 2166.5V2185.9M256.68 2202.9V2222.3M250.68 2166.5H262.68M250.68 2222.3H262.68" stroke="#515151" stroke-width="1.2" fill="none"/>
<path d="M302.77 2146.3V2189M302.77 2206V2248.7M296.77 2146.3H308.77M296.77 2248.7H308.77" stroke="#515151" stroke-width="1.2" fill="none"/>
<path d="M210.59 2185.1V2192.7M210.59 2212.5V2220.1M204.59 2185.1H216.59M204.59 2220.1H216.59" stroke="#F14040" stroke-width="1.2" fill="none"/>
<path d="M256.68 2188.8V2212.7M256.68 2232.5V2256.4M250.68 2188.8H262.68M250.68 2256.4H262.68" stroke="#F14040" stroke-width="1.2" fill="none"/>
<path d="M302.77 2145.8V2183.1M302.77 2202.9V2240.2M296.77 2145.8H308.77M296.77 2240.2H308.77" stroke="#F14040" stroke-width="1.2" fill="none"/>
<path d="M394.95 2206.3V2224.6M394.95 2244.4V2262.7M388.95 2206.3H400.95M388.95 2262.7H400.95" stroke="#F14040" stroke-width="1.2" fill="none"/>
<path d="M210.59 2170.25V2174.5M204.59 2152.5H216.59M204.59 2174.5H216.59" stroke="#1A6FDF" stroke-width="1.2" fill="none"/>
<path d="M256.68 2139.9V2187.89M256.68 2208.15V2262.9M250.68 2139.9H262.68M250.68 2262.9H262.68" stroke="#1A6FDF" stroke-width="1.2" fill="none"/>
<path d="M394.95 2214.05V2216.3M388.95 2198.3H400.95M388.95 2216.3H400.95" stroke="#1A6FDF" stroke-width="1.2" fill="none"/>
<path d="M210.59 2072.9V2089.45M210.59 2109.71V2119.5M204.59 2072.9H216.59M204.59 2119.5H216.59" stroke="#37AD6B" stroke-width="1.2" fill="none"/>
<path d="M256.68 2091.1V2100.45M256.68 2120.71V2123.3M250.68 2091.1H262.68M250.68 2123.3H262.68" stroke="#37AD6B" stroke-width="1.2" fill="none"/>
<path d="M302.77 2152.3V2160.65M302.77 2180.91V2182.5M296.77 2152.3H308.77M296.77 2182.5H308.77" stroke="#37AD6B" stroke-width="1.2" fill="none"/>
</g>
<path d="M187.55 2472.7v-6M187.55 1860.1v6M210.59 2472.7v-12M210.59 1860.1v12M233.64 2472.7v-6M233.64 1860.1v6M256.68 2472.7v-12M256.68 1860.1v12M279.73 2472.7v-6M279.73 1860.1v6M302.77 2472.7v-12M302.77 1860.1v12M325.82 2472.7v-6M325.82 1860.1v6M348.86 2472.7v-12M348.86 1860.1v12M371.91 2472.7v-6M371.91 1860.1v6M394.95 2472.7v-12M394.95 1860.1v12M164.5 2370.6h6M418 2370.6h-6M164.5 2268.5h12M418 2268.5h-12M164.5 2166.4h6M418 2166.4h-6M164.5 2064.3h12M418 2064.3h-12M164.5 1962.2h6M418 1962.2h-6" stroke="#000" stroke-width="2.6" fill="none"/>
<rect x="164.5" y="1860.1" width="253.5" height="612.6" fill="none" stroke="#000" stroke-width="2.6"/>
<text transform="translate(164.5 2512.7) scale(0.9597 1)" font-family='"Liberation Sans", Arial, Helvetica, sans-serif' font-size="35.95" text-anchor="middle" stroke="#000" stroke-width="0.25">0</text>
<text transform="translate(210.59 2512.7) scale(0.9597 1)" font-family='"Liberation Sans", Arial, Helvetica, sans-serif' font-size="35.95" text-anchor="middle" stroke="#000" stroke-width="0.25">1</text>
<text transform="translate(256.68 2512.7) scale(0.9597 1)" font-family='"Liberation Sans", Arial, Helvetica, sans-serif' font-size="35.95" text-anchor="middle" stroke="#000" stroke-width="0.25">2</text>
<text transform="translate(302.77 2512.7) scale(0.9597 1)" font-family='"Liberation Sans", Arial, Helvetica, sans-serif' font-size="35.95" text-anchor="middle" stroke="#000" stroke-width="0.25">3</text>
<text transform="translate(348.86 2512.7) scale(0.9597 1)" font-family='"Liberation Sans", Arial, Helvetica, sans-serif' font-size="35.95" text-anchor="middle" stroke="#000" stroke-width="0.25">4</text>
<text transform="translate(394.95 2512.7) scale(0.9597 1)" font-family='"Liberation Sans", Arial, Helvetica, sans-serif' font-size="35.95" text-anchor="middle" stroke="#000" stroke-width="0.25">5</text>
<rect x="190.2" y="1886.2" width="65" height="70" fill="#000"/>
<rect x="181.5" y="1877.5" width="65" height="70" fill="#fff" stroke="#000" stroke-width="1"/>
<text transform="translate(214 1930.1) scale(0.9597 1)" font-family='"Liberation Sans", Arial, Helvetica, sans-serif' font-size="54.5" text-anchor="middle" stroke="#000" stroke-width="0.25">Ar</text>
<clipPath id="c8"><rect x="447.2" y="1860.1" width="253.5" height="612.6"/></clipPath>
<g clip-path="url(#c8)">
<line x1="505.68" y1="2193.53" x2="527" y2="2204.77" stroke="#515151" stroke-width="3.0"/>
<line x1="549.73" y1="2220.73" x2="575.12" y2="2243.87" stroke="#515151" stroke-width="3.0"/>
<line x1="599.1" y1="2250.09" x2="664.03" y2="2234.81" stroke="#515151" stroke-width="3.0"/>
<rect x="484.79" y="2178.5" width="17" height="17" fill="#515151"/>
<rect x="530.88" y="2202.8" width="17" height="17" fill="#515151"/>
<rect x="576.97" y="2244.8" width="17" height="17" fill="#515151"/>
<rect x="669.15" y="2223.1" width="17" height="17" fill="#515151"/>
<line x1="505.39" y1="2215.24" x2="527.28" y2="2227.96" stroke="#F14040" stroke-width="3.0"/>
<line x1="552.69" y1="2239.33" x2="572.16" y2="2245.67" stroke="#F14040" stroke-width="3.0"/>
<line x1="598.86" y1="2245.9" x2="664.27" y2="2225.9" stroke="#F14040" stroke-width="3.0"/>
<circle cx="493.29" cy="2208.2" r="9.9" fill="#F14040"/>
<circle cx="539.38" cy="2235" r="9.9" fill="#F14040"/>
<circle cx="585.47" cy="2250" r="9.9" fill="#F14040"/>
<circle cx="677.65" cy="2221.8" r="9.9" fill="#F14040"/>
<line x1="502.54" y1="2187.91" x2="530.14" y2="2219.29" stroke="#1A6FDF" stroke-width="3.0"/>
<line x1="553.3" y1="2228.26" x2="571.56" y2="2226.24" stroke="#1A6FDF" stroke-width="3.0"/>
<line x1="599.44" y1="2225.64" x2="663.69" y2="2229.96" stroke="#1A6FDF" stroke-width="3.0"/>
<path d="M481.59 2184.15L504.99 2184.15L493.29 2163.89Z" fill="#1A6FDF"/>
<path d="M527.68 2236.55L551.08 2236.55L539.38 2216.29Z" fill="#1A6FDF"/>
<path d="M573.77 2231.45L597.17 2231.45L585.47 2211.19Z" fill="#1A6FDF"/>
<path d="M665.95 2237.65L689.35 2237.65L677.65 2217.39Z" fill="#1A6FDF"/>
<line x1="507.27" y1="2130.1" x2="525.4" y2="2129.2" stroke="#37AD6B" stroke-width="3.0"/>
<line x1="552.71" y1="2132.78" x2="572.14" y2="2139.02" stroke="#37AD6B" stroke-width="3.0"/>
<line x1="599.07" y1="2146.65" x2="664.06" y2="2162.65" stroke="#37AD6B" stroke-width="3.0"/>
<path d="M481.59 2124.05L504.99 2124.05L493.29 2144.31Z" fill="#37AD6B"/>
<path d="M527.68 2121.75L551.08 2121.75L539.38 2142.01Z" fill="#37AD6B"/>
<path d="M573.77 2136.55L597.17 2136.55L585.47 2156.81Z" fill="#37AD6B"/>
<path d="M665.95 2159.25L689.35 2159.25L677.65 2179.51Z" fill="#37AD6B"/>
<path d="M487.29 2180H499.29M487.29 2194H499.29" stroke="#515151" stroke-width="1.2" fill="none"/>
<path d="M539.38 2170V2202.8M539.38 2219.8V2252.6M533.38 2170H545.38M533.38 2252.6H545.38" stroke="#515151" stroke-width="1.2" fill="none"/>
<path d="M539.38 2213.2V2225.1M539.38 2244.9V2256.8M533.38 2213.2H545.38M533.38 2256.8H545.38" stroke="#F14040" stroke-width="1.2" fill="none"/>
<path d="M493.29 2159.7V2163.89M493.29 2184.15V2195.1M487.29 2159.7H499.29M487.29 2195.1H499.29" stroke="#1A6FDF" stroke-width="1.2" fill="none"/>
<path d="M677.65 2237.65V2238.9M671.65 2222.9H683.65M671.65 2238.9H683.65" stroke="#1A6FDF" stroke-width="1.2" fill="none"/>
<path d="M493.29 2103.3V2124.05M493.29 2144.31V2158.3M487.29 2103.3H499.29M487.29 2158.3H499.29" stroke="#37AD6B" stroke-width="1.2" fill="none"/>
<path d="M539.38 2114.8V2121.75M539.38 2142.01V2142.2M533.38 2114.8H545.38M533.38 2142.2H545.38" stroke="#37AD6B" stroke-width="1.2" fill="none"/>
<path d="M585.47 2111.4V2136.55M585.47 2156.81V2175.2M579.47 2111.4H591.47M579.47 2175.2H591.47" stroke="#37AD6B" stroke-width="1.2" fill="none"/>
<path d="M677.65 2157.6V2159.25M671.65 2157.6H683.65M671.65 2174.4H683.65" stroke="#37AD6B" stroke-width="1.2" fill="none"/>
</g>
<path d="M470.25 2472.7v-6M470.25 1860.1v6M493.29 2472.7v-12M493.29 1860.1v12M516.34 2472.7v-6M516.34 1860.1v6M539.38 2472.7v-12M539.38 1860.1v12M562.43 2472.7v-6M562.43 1860.1v6M585.47 2472.7v-12M585.47 1860.1v12M608.52 2472.7v-6M608.52 1860.1v6M631.56 2472.7v-12M631.56 1860.1v12M654.61 2472.7v-6M654.61 1860.1v6M677.65 2472.7v-12M677.65 1860.1v12M447.2 2370.6h6M700.7 2370.6h-6M447.2 2268.5h12M700.7 2268.5h-12M447.2 2166.4h6M700.7 2166.4h-6M447.2 2064.3h12M700.7 2064.3h-12M447.2 1962.2h6M700.7 1962.2h-6" stroke="#000" stroke-width="2.6" fill="none"/>
<rect x="447.2" y="1860.1" width="253.5" height="612.6" fill="none" stroke="#000" stroke-width="2.6"/>
<text transform="translate(447.2 2512.7) scale(0.9597 1)" font-family='"Liberation Sans", Arial, Helvetica, sans-serif' font-size="35.95" text-anchor="middle" stroke="#000" stroke-width="0.25">0</text>
<text transform="translate(493.29 2512.7) scale(0.9597 1)" font-family='"Liberation Sans", Arial, Helvetica, sans-serif' font-size="35.95" text-anchor="middle" stroke="#000" stroke-width="0.25">1</text>
<text transform="translate(539.38 2512.7) scale(0.9597 1)" font-family='"Liberation Sans", Arial, Helvetica, sans-serif' font-size="35.95" text-anchor="middle" stroke="#000" stroke-width="0.25">2</text>
<text transform="translate(585.47 2512.7) scale(0.9597 1)" font-family='"Liberation Sans", Arial, Helvetica, sans-serif' font-size="35.95" text-anchor="middle" stroke="#000" stroke-width="0.25">3</text>
<text transform="translate(631.56 2512.7) scale(0.9597 1)" font-family='"Liberation Sans", Arial, Helvetica, sans-serif' font-size="35.95" text-anchor="middle" stroke="#000" stroke-width="0.25">4</text>
<text transform="translate(677.65 2512.7) scale(0.9597 1)" font-family='"Liberation Sans", Arial, Helvetica, sans-serif' font-size="35.95" text-anchor="middle" stroke="#000" stroke-width="0.25">5</text>
<rect x="467.2" y="1885.2" width="65" height="72" fill="#000"/>
<rect x="458.5" y="1876.5" width="65" height="72" fill="#fff" stroke="#000" stroke-width="1"/>
<text transform="translate(491 1929.1) scale(0.9597 1)" font-family='"Liberation Sans", Arial, Helvetica, sans-serif' font-size="54.5" text-anchor="middle" stroke="#000" stroke-width="0.25">Kr</text>
<clipPath id="c9"><rect x="732.4" y="1860.1" width="253.5" height="612.6"/></clipPath>
<g clip-path="url(#c9)">
<line x1="790.92" y1="2218.34" x2="812.15" y2="2229.36" stroke="#515151" stroke-width="3.0"/>
<line x1="836.44" y1="2228.36" x2="858.81" y2="2214.34" stroke="#515151" stroke-width="3.0"/>
<line x1="884.53" y1="2208.91" x2="949" y2="2218.29" stroke="#515151" stroke-width="3.0"/>
<rect x="769.99" y="2203.4" width="17" height="17" fill="#515151"/>
<rect x="816.08" y="2227.3" width="17" height="17" fill="#515151"/>
<rect x="862.17" y="2198.4" width="17" height="17" fill="#515151"/>
<rect x="954.35" y="2211.8" width="17" height="17" fill="#515151"/>
<line x1="790.96" y1="2221.94" x2="812.11" y2="2211.16" stroke="#F14040" stroke-width="3.0"/>
<line x1="837.72" y1="2209.64" x2="857.54" y2="2216.96" stroke="#F14040" stroke-width="3.0"/>
<line x1="884.3" y1="2225.01" x2="949.23" y2="2240.29" stroke="#F14040" stroke-width="3.0"/>
<circle cx="778.49" cy="2228.3" r="9.9" fill="#F14040"/>
<circle cx="824.58" cy="2204.8" r="9.9" fill="#F14040"/>
<circle cx="870.67" cy="2221.8" r="9.9" fill="#F14040"/>
<circle cx="962.85" cy="2243.5" r="9.9" fill="#F14040"/>
<line x1="790.67" y1="2209.9" x2="812.4" y2="2222.2" stroke="#1A6FDF" stroke-width="3.0"/>
<line x1="838.46" y1="2230.94" x2="856.79" y2="2233.36" stroke="#1A6FDF" stroke-width="3.0"/>
<line x1="884.41" y1="2232.49" x2="949.12" y2="2219.71" stroke="#1A6FDF" stroke-width="3.0"/>
<path d="M766.79 2209.75L790.19 2209.75L778.49 2189.49Z" fill="#1A6FDF"/>
<path d="M812.88 2235.85L836.28 2235.85L824.58 2215.59Z" fill="#1A6FDF"/>
<path d="M858.97 2241.95L882.37 2241.95L870.67 2221.69Z" fill="#1A6FDF"/>
<path d="M951.15 2223.75L974.55 2223.75L962.85 2203.49Z" fill="#1A6FDF"/>
<line x1="790.91" y1="2141.87" x2="812.16" y2="2152.93" stroke="#37AD6B" stroke-width="3.0"/>
<line x1="838.57" y1="2159.89" x2="856.68" y2="2160.51" stroke="#37AD6B" stroke-width="3.0"/>
<line x1="884.64" y1="2161.92" x2="948.89" y2="2166.18" stroke="#37AD6B" stroke-width="3.0"/>
<path d="M766.79 2128.65L790.19 2128.65L778.49 2148.91Z" fill="#37AD6B"/>
<path d="M812.88 2152.65L836.28 2152.65L824.58 2172.91Z" fill="#37AD6B"/>
<path d="M858.97 2154.25L882.37 2154.25L870.67 2174.51Z" fill="#37AD6B"/>
<path d="M951.15 2160.35L974.55 2160.35L962.85 2180.61Z" fill="#37AD6B"/>
<path d="M778.49 2196.9V2203.4M778.49 2220.4V2226.9M772.49 2196.9H784.49M772.49 2226.9H784.49" stroke="#515151" stroke-width="1.2" fill="none"/>
<path d="M824.58 2225.8V2227.3M824.58 2244.3V2245.8M818.58 2225.8H830.58M818.58 2245.8H830.58" stroke="#515151" stroke-width="1.2" fill="none"/>
<path d="M772.49 2218.8H784.49M772.49 2237.8H784.49" stroke="#F14040" stroke-width="1.2" fill="none"/>
<path d="M824.58 2129.4V2194.9M824.58 2214.7V2280.2M818.58 2129.4H830.58M818.58 2280.2H830.58" stroke="#F14040" stroke-width="1.2" fill="none"/>
<path d="M870.67 2211.8V2211.9M870.67 2231.7V2231.8M864.67 2211.8H876.67M864.67 2231.8H876.67" stroke="#F14040" stroke-width="1.2" fill="none"/>
<path d="M778.49 2177.3V2189.49M778.49 2209.75V2228.7M772.49 2177.3H784.49M772.49 2228.7H784.49" stroke="#1A6FDF" stroke-width="1.2" fill="none"/>
<path d="M824.58 2201.3V2215.59M824.58 2235.85V2256.9M818.58 2201.3H830.58M818.58 2256.9H830.58" stroke="#1A6FDF" stroke-width="1.2" fill="none"/>
<path d="M870.67 2241.95V2247.2M864.67 2223.2H876.67M864.67 2247.2H876.67" stroke="#1A6FDF" stroke-width="1.2" fill="none"/>
<path d="M962.85 2199.5V2203.49M962.85 2223.75V2234.5M956.85 2199.5H968.85M956.85 2234.5H968.85" stroke="#1A6FDF" stroke-width="1.2" fill="none"/>
<path d="M778.49 2092.8V2128.65M778.49 2148.91V2178M772.49 2092.8H784.49M772.49 2178H784.49" stroke="#37AD6B" stroke-width="1.2" fill="none"/>
<path d="M824.58 2136.8V2152.65M824.58 2172.91V2182M818.58 2136.8H830.58M818.58 2182H830.58" stroke="#37AD6B" stroke-width="1.2" fill="none"/>
<path d="M870.67 2124.8V2154.25M870.67 2174.51V2197.2M864.67 2124.8H876.67M864.67 2197.2H876.67" stroke="#37AD6B" stroke-width="1.2" fill="none"/>
<path d="M962.85 2135.6V2160.35M962.85 2180.61V2198.6M956.85 2135.6H968.85M956.85 2198.6H968.85" stroke="#37AD6B" stroke-width="1.2" fill="none"/>
</g>
<path d="M755.45 2472.7v-6M755.45 1860.1v6M778.49 2472.7v-12M778.49 1860.1v12M801.54 2472.7v-6M801.54 1860.1v6M824.58 2472.7v-12M824.58 1860.1v12M847.63 2472.7v-6M847.63 1860.1v6M870.67 2472.7v-12M870.67 1860.1v12M893.72 2472.7v-6M893.72 1860.1v6M916.76 2472.7v-12M916.76 1860.1v12M939.81 2472.7v-6M939.81 1860.1v6M962.85 2472.7v-12M962.85 1860.1v12M732.4 2370.6h6M985.9 2370.6h-6M732.4 2268.5h12M985.9 2268.5h-12M732.4 2166.4h6M985.9 2166.4h-6M732.4 2064.3h12M985.9 2064.3h-12M732.4 1962.2h6M985.9 1962.2h-6" stroke="#000" stroke-width="2.6" fill="none"/>
<rect x="732.4" y="1860.1" width="253.5" height="612.6" fill="none" stroke="#000" stroke-width="2.6"/>
<text transform="translate(732.4 2512.7) scale(0.9597 1)" font-family='"Liberation Sans", Arial, Helvetica, sans-serif' font-size="35.95" text-anchor="middle" stroke="#000" stroke-width="0.25">0</text>
<text transform="translate(778.49 2512.7) scale(0.9597 1)" font-family='"Liberation Sans", Arial, Helvetica, sans-serif' font-size="35.95" text-anchor="middle" stroke="#000" stroke-width="0.25">1</text>
<text transform="translate(824.58 2512.7) scale(0.9597 1)" font-family='"Liberation Sans", Arial, Helvetica, sans-serif' font-size="35.95" text-anchor="middle" stroke="#000" stroke-width="0.25">2</text>
<text transform="translate(870.67 2512.7) scale(0.9597 1)" font-family='"Liberation Sans", Arial, Helvetica, sans-serif' font-size="35.95" text-anchor="middle" stroke="#000" stroke-width="0.25">3</text>
<text transform="translate(916.76 2512.7) scale(0.9597 1)" font-family='"Liberation Sans", Arial, Helvetica, sans-serif' font-size="35.95" text-anchor="middle" stroke="#000" stroke-width="0.25">4</text>
<text transform="translate(962.85 2512.7) scale(0.9597 1)" font-family='"Liberation Sans", Arial, Helvetica, sans-serif' font-size="35.95" text-anchor="middle" stroke="#000" stroke-width="0.25">5</text>
<rect x="755.2" y="1885.2" width="76" height="71" fill="#000"/>
<rect x="746.5" y="1876.5" width="76" height="71" fill="#fff" stroke="#000" stroke-width="1"/>
<text transform="translate(784.5 1929.1) scale(0.9597 1)" font-family='"Liberation Sans", Arial, Helvetica, sans-serif' font-size="54.5" text-anchor="middle" stroke="#000" stroke-width="0.25">Xe</text>
<text transform="translate(151.8 2483.1) scale(0.9597 1)" font-family='"Liberation Sans", Arial, Helvetica, sans-serif' font-size="35.95" text-anchor="end" stroke="#000" stroke-width="0.25">0.000</text>
<text transform="translate(151.8 2278.9) scale(0.9597 1)" font-family='"Liberation Sans", Arial, Helvetica, sans-serif' font-size="35.95" text-anchor="end" stroke="#000" stroke-width="0.25">0.001</text>
<text transform="translate(151.8 2074.7) scale(0.9597 1)" font-family='"Liberation Sans", Arial, Helvetica, sans-serif' font-size="35.95" text-anchor="end" stroke="#000" stroke-width="0.25">0.002</text>
<text transform="translate(151.8 1870.5) scale(0.9597 1)" font-family='"Liberation Sans", Arial, Helvetica, sans-serif' font-size="35.95" text-anchor="end" stroke="#000" stroke-width="0.25">0.003</text>
<text transform="translate(578.6 1839.8) scale(0.9597 1)" font-family='"Liberation Sans", Arial, Helvetica, sans-serif' font-size="54.08" font-weight="bold" text-anchor="middle" stroke="#000" stroke-width="0.25">40 mA</text>
<text transform="translate(573.3 2573.9) scale(0.877 1)" text-anchor="middle" font-family='"Liberation Sans", Arial, Helvetica, sans-serif' font-size="54" stroke="#000" stroke-width="1.0" stroke-linejoin="round">%</text>
<text x="588.3" y="2646.2" text-anchor="middle" font-family='"Liberation Serif", "Times New Roman", serif' font-size="44.4">c)</text>
<text transform="rotate(-90)" text-anchor="middle"><tspan x="-2184.6" y="31.2" font-family='"Liberation Serif", "Times New Roman", serif' font-size="70">γ</tspan><tspan x="-2152.6" y="50" font-family='"Liberation Sans", Arial, Helvetica, sans-serif' font-size="49">O</tspan></text>
<rect x="860.5" y="1826.8" width="152.2" height="197.8" fill="#fff" stroke="#000" stroke-width="1"/>
<text transform="translate(1009.2 1859.1) scale(0.9597 1)" font-family='"Liberation Sans", Arial, Helvetica, sans-serif' font-size="34.39" text-anchor="end" stroke="#000" stroke-width="0.25">P (Torr)</text>
<path d="M865.2 1887H887.3M912.9 1887H935" stroke="#515151" stroke-width="3.0" fill="none"/>
<rect x="891.6" y="1878.5" width="17" height="17" fill="#515151"/>
<text transform="translate(943.9 1897.9) scale(0.9597 1)" font-family='"Liberation Sans", Arial, Helvetica, sans-serif' font-size="32.72" stroke="#000" stroke-width="0.25">0.23</text>
<path d="M865.2 1925.2H887.3M912.9 1925.2H935" stroke="#F14040" stroke-width="3.0" fill="none"/>
<circle cx="900.1" cy="1925.2" r="9.9" fill="#F14040"/>
<text transform="translate(943.9 1936.1) scale(0.9597 1)" font-family='"Liberation Sans", Arial, Helvetica, sans-serif' font-size="32.72" stroke="#000" stroke-width="0.25">0.5</text>
<path d="M865.2 1963.8H887.3M912.9 1963.8H935" stroke="#1A6FDF" stroke-width="3.0" fill="none"/>
<path d="M888.4 1970.55L911.8 1970.55L900.1 1950.29Z" fill="#1A6FDF"/>
<text transform="translate(943.9 1974.7) scale(0.9597 1)" font-family='"Liberation Sans", Arial, Helvetica, sans-serif' font-size="32.72" stroke="#000" stroke-width="0.25">1</text>
<path d="M865.2 2002.6H887.3M912.9 2002.6H935" stroke="#37AD6B" stroke-width="3.0" fill="none"/>
<path d="M888.4 1995.85L911.8 1995.85L900.1 2016.11Z" fill="#37AD6B"/>
<text transform="translate(943.9 2013.5) scale(0.9597 1)" font-family='"Liberation Sans", Arial, Helvetica, sans-serif' font-size="32.72" stroke="#000" stroke-width="0.25">2</text>
</g>
</svg>
</body></html>
